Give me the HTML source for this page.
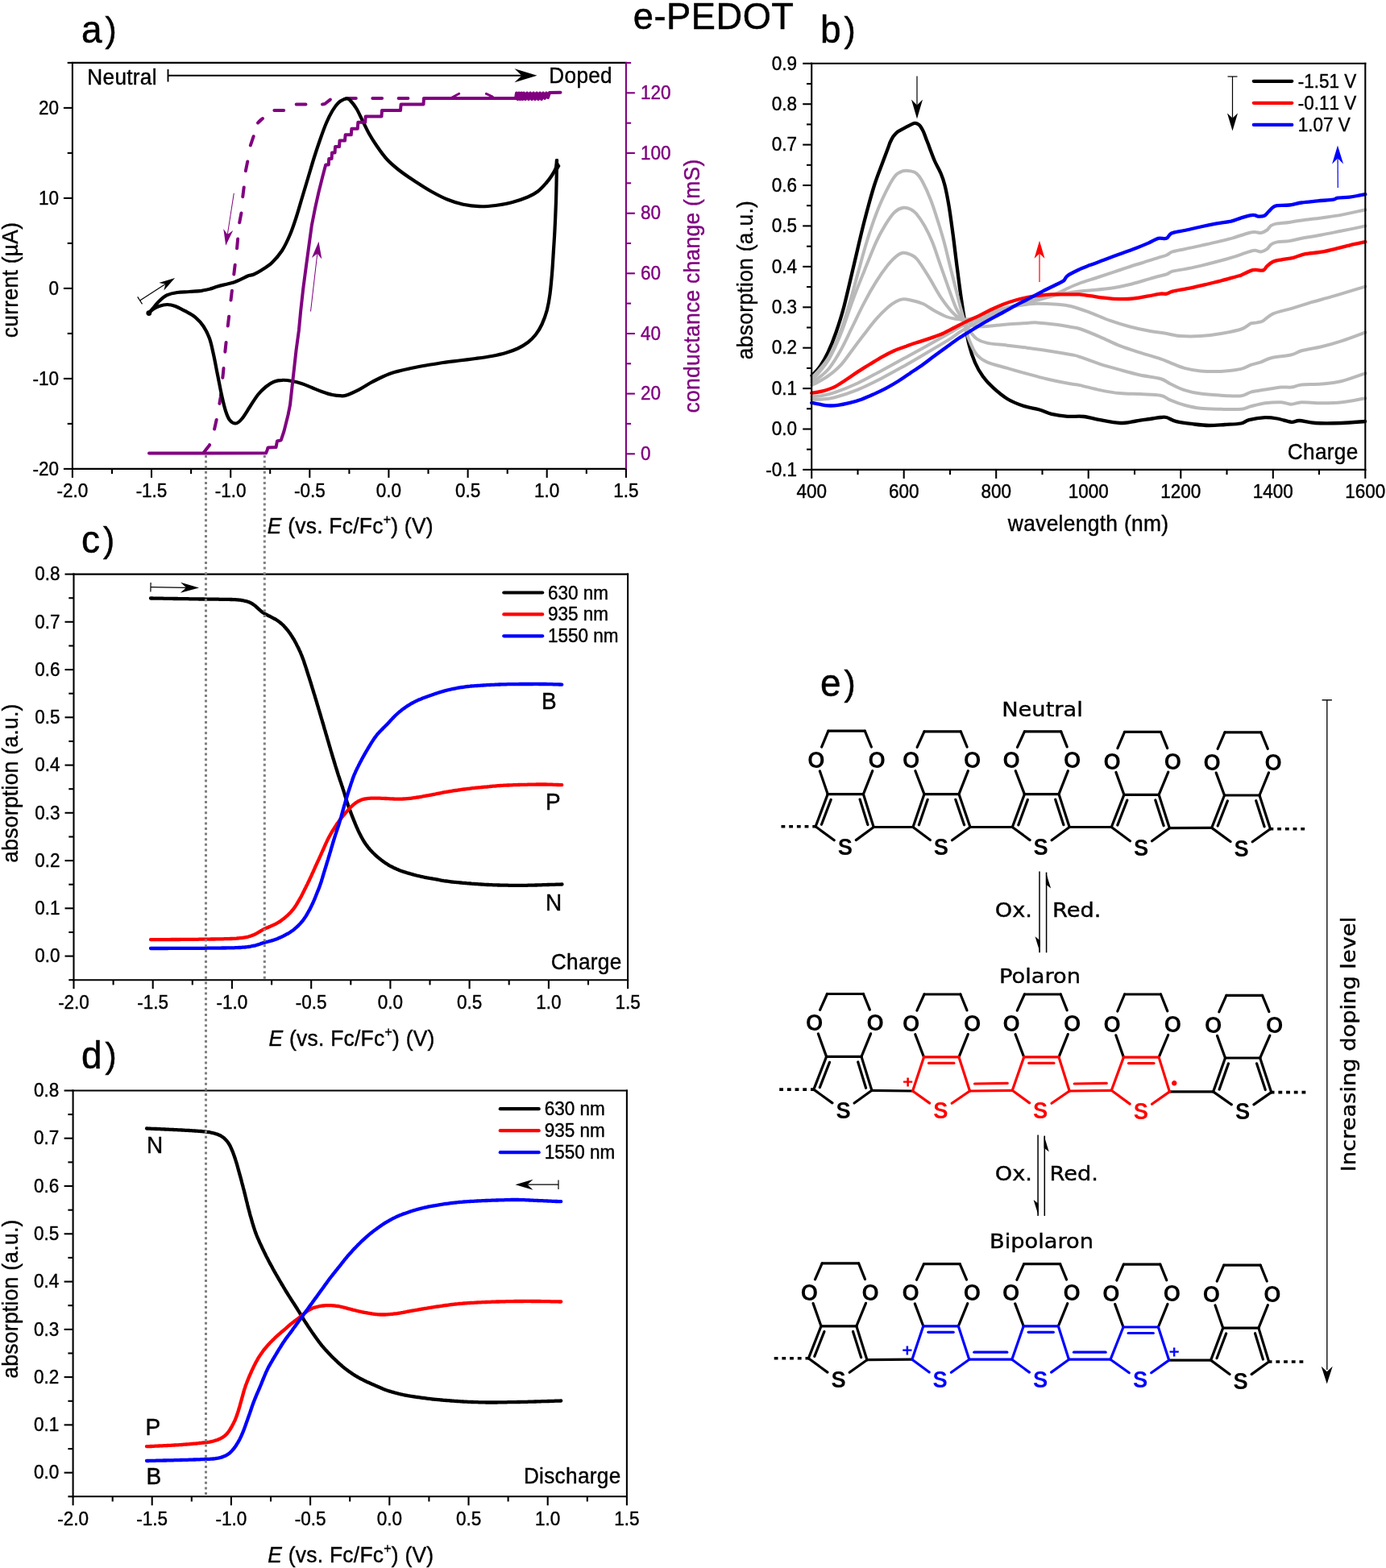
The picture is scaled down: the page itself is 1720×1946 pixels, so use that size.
<!DOCTYPE html>
<html lang="en">
<head>
<meta charset="utf-8">
<title>e-PEDOT</title>
<style>
html,body{margin:0;padding:0;background:#fff;}
body{width:1720px;height:1946px;overflow:hidden;}
svg{display:block;}
.ls{font-family:"Liberation Sans",Arial,Helvetica,sans-serif;font-kerning:none;}
.dv{font-family:"DejaVu Sans",Verdana,sans-serif;}
.lsb{font-family:"Liberation Sans",Arial,Helvetica,sans-serif;font-weight:bold;}
.dvb{font-family:"DejaVu Sans",Verdana,sans-serif;font-weight:bold;}
</style>
</head>
<body>
<svg width="1720" height="1946" viewBox="0 0 1720 1946">
<rect width="1720" height="1946" fill="#fff"/>
<text class="ls" transform="translate(785.8 35.5) scale(1 1.04)" font-size="45.2" stroke="#000" stroke-width="0.5" letter-spacing="0.55">e-PEDOT</text>
<text class="ls" transform="translate(101 53) scale(1 1.03)" font-size="46" stroke="#000" stroke-width="0.5">a<tspan font-size="42.5" dx="4" dy="-0.5">)</tspan></text>
<text class="ls" transform="translate(1018 53) scale(1 1.03)" font-size="46" stroke="#000" stroke-width="0.5">b<tspan font-size="42.5" dx="4" dy="-0.5">)</tspan></text>
<text class="ls" transform="translate(101 686) scale(1 1.03)" font-size="46" stroke="#000" stroke-width="0.5">c<tspan font-size="42.5" dx="4" dy="-0.5">)</tspan></text>
<text class="ls" transform="translate(101 1326) scale(1 1.03)" font-size="46" stroke="#000" stroke-width="0.5">d<tspan font-size="42.5" dx="4" dy="-0.5">)</tspan></text>
<text class="ls" transform="translate(1018 864) scale(1 1.03)" font-size="46" stroke="#000" stroke-width="0.5">e<tspan font-size="42.5" dx="4" dy="-0.5">)</tspan></text>
<g>
<line x1="89.9" y1="76.9" x2="89.9" y2="582.9" stroke="#000" stroke-width="2.1" /><line x1="88.9" y1="581.9" x2="777.9" y2="581.9" stroke="#000" stroke-width="2.1" /><line x1="88.9" y1="77.9" x2="777.9" y2="77.9" stroke="#000" stroke-width="2.1" /><line x1="776.9" y1="76.9" x2="776.9" y2="582.9" stroke="#800080" stroke-width="2.1" />
<line x1="89.9" y1="581.9" x2="89.9" y2="592.9" stroke="#000" stroke-width="2.1" /><line x1="188" y1="581.9" x2="188" y2="592.9" stroke="#000" stroke-width="2.1" /><line x1="286.2" y1="581.9" x2="286.2" y2="592.9" stroke="#000" stroke-width="2.1" /><line x1="384.3" y1="581.9" x2="384.3" y2="592.9" stroke="#000" stroke-width="2.1" /><line x1="482.4" y1="581.9" x2="482.4" y2="592.9" stroke="#000" stroke-width="2.1" /><line x1="580.6" y1="581.9" x2="580.6" y2="592.9" stroke="#000" stroke-width="2.1" /><line x1="678.7" y1="581.9" x2="678.7" y2="592.9" stroke="#000" stroke-width="2.1" /><line x1="776.9" y1="581.9" x2="776.9" y2="592.9" stroke="#000" stroke-width="2.1" /><line x1="139" y1="581.9" x2="139" y2="588.1" stroke="#000" stroke-width="2.1" /><line x1="237.1" y1="581.9" x2="237.1" y2="588.1" stroke="#000" stroke-width="2.1" /><line x1="335.2" y1="581.9" x2="335.2" y2="588.1" stroke="#000" stroke-width="2.1" /><line x1="433.4" y1="581.9" x2="433.4" y2="588.1" stroke="#000" stroke-width="2.1" /><line x1="531.5" y1="581.9" x2="531.5" y2="588.1" stroke="#000" stroke-width="2.1" /><line x1="629.7" y1="581.9" x2="629.7" y2="588.1" stroke="#000" stroke-width="2.1" /><line x1="727.8" y1="581.9" x2="727.8" y2="588.1" stroke="#000" stroke-width="2.1" /><text class="ls" transform="translate(89.9 616.8) scale(1.0 1.04)" font-size="22.5" text-anchor="middle" fill="#000"  stroke="#000" stroke-width="0.4">-2.0</text><text class="ls" transform="translate(188 616.8) scale(1.0 1.04)" font-size="22.5" text-anchor="middle" fill="#000"  stroke="#000" stroke-width="0.4">-1.5</text><text class="ls" transform="translate(286.2 616.8) scale(1.0 1.04)" font-size="22.5" text-anchor="middle" fill="#000"  stroke="#000" stroke-width="0.4">-1.0</text><text class="ls" transform="translate(384.3 616.8) scale(1.0 1.04)" font-size="22.5" text-anchor="middle" fill="#000"  stroke="#000" stroke-width="0.4">-0.5</text><text class="ls" transform="translate(482.4 616.8) scale(1.0 1.04)" font-size="22.5" text-anchor="middle" fill="#000"  stroke="#000" stroke-width="0.4">0.0</text><text class="ls" transform="translate(580.6 616.8) scale(1.0 1.04)" font-size="22.5" text-anchor="middle" fill="#000"  stroke="#000" stroke-width="0.4">0.5</text><text class="ls" transform="translate(678.7 616.8) scale(1.0 1.04)" font-size="22.5" text-anchor="middle" fill="#000"  stroke="#000" stroke-width="0.4">1.0</text><text class="ls" transform="translate(776.9 616.8) scale(1.0 1.04)" font-size="22.5" text-anchor="middle" fill="#000"  stroke="#000" stroke-width="0.4">1.5</text>
<line x1="78.9" y1="581.9" x2="89.9" y2="581.9" stroke="#000" stroke-width="2.1" /><line x1="78.9" y1="469.9" x2="89.9" y2="469.9" stroke="#000" stroke-width="2.1" /><line x1="78.9" y1="357.9" x2="89.9" y2="357.9" stroke="#000" stroke-width="2.1" /><line x1="78.9" y1="245.9" x2="89.9" y2="245.9" stroke="#000" stroke-width="2.1" /><line x1="78.9" y1="133.9" x2="89.9" y2="133.9" stroke="#000" stroke-width="2.1" /><line x1="83.7" y1="525.9" x2="89.9" y2="525.9" stroke="#000" stroke-width="2.1" /><line x1="83.7" y1="413.9" x2="89.9" y2="413.9" stroke="#000" stroke-width="2.1" /><line x1="83.7" y1="301.9" x2="89.9" y2="301.9" stroke="#000" stroke-width="2.1" /><line x1="83.7" y1="189.9" x2="89.9" y2="189.9" stroke="#000" stroke-width="2.1" /><line x1="83.7" y1="77.9" x2="89.9" y2="77.9" stroke="#000" stroke-width="2.1" /><text class="ls" transform="translate(73 589.6) scale(1.0 1.04)" font-size="22.5" text-anchor="end" fill="#000"  stroke="#000" stroke-width="0.4">-20</text><text class="ls" transform="translate(73 477.6) scale(1.0 1.04)" font-size="22.5" text-anchor="end" fill="#000"  stroke="#000" stroke-width="0.4">-10</text><text class="ls" transform="translate(73 365.6) scale(1.0 1.04)" font-size="22.5" text-anchor="end" fill="#000"  stroke="#000" stroke-width="0.4">0</text><text class="ls" transform="translate(73 253.6) scale(1.0 1.04)" font-size="22.5" text-anchor="end" fill="#000"  stroke="#000" stroke-width="0.4">10</text><text class="ls" transform="translate(73 141.6) scale(1.0 1.04)" font-size="22.5" text-anchor="end" fill="#000"  stroke="#000" stroke-width="0.4">20</text>
<line x1="776.9" y1="563.3" x2="787.9" y2="563.3" stroke="#800080" stroke-width="2.1" /><line x1="776.9" y1="488.6" x2="787.9" y2="488.6" stroke="#800080" stroke-width="2.1" /><line x1="776.9" y1="414" x2="787.9" y2="414" stroke="#800080" stroke-width="2.1" /><line x1="776.9" y1="339.3" x2="787.9" y2="339.3" stroke="#800080" stroke-width="2.1" /><line x1="776.9" y1="264.7" x2="787.9" y2="264.7" stroke="#800080" stroke-width="2.1" /><line x1="776.9" y1="190" x2="787.9" y2="190" stroke="#800080" stroke-width="2.1" /><line x1="776.9" y1="115.3" x2="787.9" y2="115.3" stroke="#800080" stroke-width="2.1" /><line x1="776.9" y1="525.9" x2="783.1" y2="525.9" stroke="#800080" stroke-width="2.1" /><line x1="776.9" y1="451.3" x2="783.1" y2="451.3" stroke="#800080" stroke-width="2.1" /><line x1="776.9" y1="376.6" x2="783.1" y2="376.6" stroke="#800080" stroke-width="2.1" /><line x1="776.9" y1="302" x2="783.1" y2="302" stroke="#800080" stroke-width="2.1" /><line x1="776.9" y1="227.3" x2="783.1" y2="227.3" stroke="#800080" stroke-width="2.1" /><line x1="776.9" y1="152.7" x2="783.1" y2="152.7" stroke="#800080" stroke-width="2.1" /><line x1="776.9" y1="78" x2="783.1" y2="78" stroke="#800080" stroke-width="2.1" /><text class="ls" transform="translate(795 571) scale(1.0 1.04)" font-size="22.5" text-anchor="start" fill="#800080"  stroke="#800080" stroke-width="0.4">0</text><text class="ls" transform="translate(795 496.3) scale(1.0 1.04)" font-size="22.5" text-anchor="start" fill="#800080"  stroke="#800080" stroke-width="0.4">20</text><text class="ls" transform="translate(795 421.7) scale(1.0 1.04)" font-size="22.5" text-anchor="start" fill="#800080"  stroke="#800080" stroke-width="0.4">40</text><text class="ls" transform="translate(795 347) scale(1.0 1.04)" font-size="22.5" text-anchor="start" fill="#800080"  stroke="#800080" stroke-width="0.4">60</text><text class="ls" transform="translate(795 272.4) scale(1.0 1.04)" font-size="22.5" text-anchor="start" fill="#800080"  stroke="#800080" stroke-width="0.4">80</text><text class="ls" transform="translate(795 197.7) scale(1.0 1.04)" font-size="22.5" text-anchor="start" fill="#800080"  stroke="#800080" stroke-width="0.4">100</text><text class="ls" transform="translate(795 123) scale(1.0 1.04)" font-size="22.5" text-anchor="start" fill="#800080"  stroke="#800080" stroke-width="0.4">120</text>
<text class="ls" transform="translate(331.7 662.3) scale(1 1.04)" font-size="26.4" stroke="#000" stroke-width="0.4" letter-spacing="0.27"><tspan font-style="italic">E</tspan> (vs. Fc/Fc<tspan font-size="15.8" dy="-11.4">+</tspan><tspan dy="11.4">) (V)</tspan></text>
<text class="ls" transform="translate(22 347.5) rotate(-90) scale(1.0 1.04)" font-size="26.4" text-anchor="middle" fill="#000"  stroke="#000" stroke-width="0.4" letter-spacing="0.3">current (µA)</text>
<text class="ls" transform="translate(868 355) rotate(-90) scale(1.0 1.04)" font-size="26.4" text-anchor="middle" fill="#800080"  stroke="#800080" stroke-width="0.4" letter-spacing="0.3">conductance change (mS)</text>
<text class="ls" transform="translate(108.3 104.7) scale(1.0 1.04)" font-size="26.2" text-anchor="start" fill="#000"  stroke="#000" stroke-width="0.4" letter-spacing="0.3">Neutral</text>
<text class="ls" transform="translate(681.3 102.7) scale(1.0 1.04)" font-size="26.2" text-anchor="start" fill="#000"  stroke="#000" stroke-width="0.4" letter-spacing="0.3">Doped</text>
<line x1="208.5" y1="93.8" x2="647.5" y2="93.8" stroke="#000" stroke-width="1.9" /><line x1="208.5" y1="101.5" x2="208.5" y2="86" stroke="#000" stroke-width="1.9" /><polygon points="666.5,93.8 638.5,102.3 647.5,93.8 638.5,85.3" fill="#000"/>
<path d="M525 122L413 122L410 123.5L403 129L400 129.4L362 129.5L359 136.9L340 137L336 138.5L330.4 144L325 147.5L320 152.5" fill="none" stroke="#800080" stroke-width="4.0" stroke-linecap="round" stroke-linejoin="round" stroke-dasharray="11.8 20.5" stroke-dashoffset="13.7"/>
<path d="M326 147L320 152.5L317.5 160L315.5 166.7L310 183L307.7 198L304.5 213.8L303 230.3L301 246L299.8 262.5L296.8 278.4L293.8 310.9L290 342.6L286.2 375.1L282.4 407.6L279.5 435L277 462.5L273.8 492.5L270 515L265 537.5L260 552.5L252.5 562" fill="none" stroke="#800080" stroke-width="4.0" stroke-linecap="round" stroke-linejoin="round" stroke-dasharray="11.8 20.5" stroke-dashoffset="6.6"/>
<path d="M560 121.5L569.7 116.3M603.4 116.3L611.3 120" fill="none" stroke="#800080" stroke-width="3" stroke-linecap="round" stroke-linejoin="round" />
<path d="M184.5 388.8C185.4 387.7 187.8 385 190 382.5C192.2 380 194.6 376.5 197.5 373.8C200.4 371 203.8 368 207.5 366.2C211.2 364.5 215.4 363.7 220 363C224.6 362.3 230 362.4 235 362C240 361.6 245.8 361.3 250 360.8C254.2 360.2 256.7 359.6 260 358.8C263.3 357.9 266.7 356.5 270 355.5C273.3 354.5 276.7 353.8 280 353C283.3 352.2 286.7 351.6 290 350.5C293.3 349.4 297.1 347.6 300 346.2C302.9 344.9 305 343.5 307.5 342.5C310 341.5 312.1 341.8 315 340.5C317.9 339.2 321.2 337.4 325 335C328.8 332.6 333.3 330 337.5 326C341.7 322 346.2 316.8 350 311C353.8 305.2 357.1 297.8 360 291C362.9 284.2 365 277.7 367.5 270C370 262.3 372.5 253.3 375 245C377.5 236.7 380 228.3 382.5 220C385 211.7 387.5 202.9 390 195C392.5 187.1 395 179.6 397.5 172.5C400 165.4 402.5 158.3 405 152.5C407.5 146.7 410 141.7 412.5 137.5C415 133.3 417.5 129.9 420 127.5C422.5 125.1 425.7 123.8 427.5 123C429.3 122.2 429.8 122.2 431 122.5C432.2 122.8 433.1 122.9 435 125C436.9 127.1 440 130.8 442.5 135C445 139.2 447.5 145 450 150C452.5 155 454.6 159.8 457.5 165C460.4 170.2 463.8 175.6 467.5 181C471.2 186.4 475.4 192.5 480 197.5C484.6 202.5 489.2 206.4 495 211C500.8 215.6 508.3 220.6 515 225C521.7 229.4 528.3 233.8 535 237.5C541.7 241.2 548.3 244.8 555 247.5C561.7 250.2 568.3 252.3 575 253.8C581.7 255.2 588.3 256 595 256.2C601.7 256.5 608.3 255.8 615 255C621.7 254.2 628.3 253 635 251.2C641.7 249.5 649.6 246.8 655 244.5C660.4 242.2 663.8 240.3 667.5 237.5C671.2 234.7 674.6 230.8 677.5 227.5C680.4 224.2 682.9 220.8 685 217.5C687.1 214.2 689 211.1 690 208C691 204.9 690.8 200.5 691 199" fill="none" stroke="#000" stroke-width="4.2" stroke-linecap="round" stroke-linejoin="round" />
<path d="M691 199C690.9 204.2 690.7 221.5 690.5 230C690.3 238.5 690.3 240.8 690 250C689.7 259.2 689 275 688.5 285C688 295 687.6 300.8 687 310C686.4 319.2 685.8 330.8 685 340C684.2 349.2 683.5 357.5 682.5 365C681.5 372.5 680.4 378.8 678.8 385C677.1 391.2 674.8 397.5 672.5 402.5C670.2 407.5 667.9 411.2 665 415C662.1 418.8 658.8 422.1 655 425C651.2 427.9 647.1 430.3 642.5 432.5C637.9 434.7 632.9 436.4 627.5 438C622.1 439.6 616.2 440.8 610 442C603.8 443.2 596.7 444.1 590 445C583.3 445.9 576.7 446.7 570 447.5C563.3 448.3 556.7 449 550 450C543.3 451 536.7 452.1 530 453.2C523.3 454.4 516.7 455.6 510 457C503.3 458.4 495.8 460 490 461.8C484.2 463.5 480 465.3 475 467.5C470 469.7 465 472.3 460 475C455 477.7 450 481.2 445 483.8C440 486.3 433.8 489.2 430 490.5C426.2 491.8 425.4 491.3 422.5 491.2C419.6 491.2 416.2 490.8 412.5 490C408.8 489.2 404.2 487.7 400 486.2C395.8 484.8 391.7 482.9 387.5 481.2C383.3 479.6 379.2 477.6 375 476.2C370.8 474.9 366.7 473.8 362.5 473C358.3 472.2 353.8 471.6 350 471.8C346.2 471.9 343.3 472.4 340 473.8C336.7 475.1 333.3 477.3 330 480C326.7 482.7 323.3 485.8 320 490C316.7 494.2 313.3 500 310 505C306.7 510 302.9 516.6 300 520C297.1 523.4 295 525.3 292.5 525.5C290 525.7 287.1 523.8 285 521.2C282.9 518.7 281.7 515.2 280 510C278.3 504.8 276.7 497.5 275 490C273.3 482.5 271.7 473.3 270 465C268.3 456.7 266.7 447.5 265 440C263.3 432.5 262.1 425.8 260 420C257.9 414.2 255.4 409.4 252.5 405C249.6 400.6 246.2 396.9 242.5 393.8C238.8 390.6 234.2 388.5 230 386.2C225.8 384 221.2 381.4 217.5 380C213.8 378.6 210.8 378 207.5 378C204.2 378 200.4 379 197.5 380C194.6 381 192.2 382.3 190 383.8C187.8 385.2 185.4 387.9 184.5 388.8" fill="none" stroke="#000" stroke-width="4.2" stroke-linecap="round" stroke-linejoin="round" />
<polygon points="690,197 695.5,206 691,214 688.5,206" fill="#000"/>
<circle cx="184.8" cy="388.6" r="3.4" fill="#000"/>
<path d="M185 562.5L330 562.3L331.5 559L332.5 555.5L342.5 555L344 547.5L348.8 546.2L352.5 535L357.5 515L360 502.5L362.5 480L365 457.5L367.5 435L370.9 409.9L373.2 385.7L376.2 358.5L380 329.8L383.7 302.6L386.8 279.9L391.3 257.2L395.6 238L400.3 219.3L403.8 206L404.2 204.4L407.8 204.4L408.2 197L411.6 197L412 189.5L415.6 189.5L416 182.1L421 182.1L421.5 174.6L428 174.6L428.6 167.3L435.8 167.3L436.4 159.7L443.8 159.7L444.3 151.8L453.2 151.8L453.7 144.4L473.5 144.4L474 137L497 137L497.6 129.4L525.5 129.4L526 122L640 122L641 115.5L642.5 123L644 115.5L645.5 123L647 115.5L648.5 123L650 115.5L652 123L654 115.5L656 123L658 115.5L660 123L662 115.5L664 123L666 115.5L668 123L670 115.5L672 123L674 115.5L676 122L678 115.5L680 121L682 115L695.5 114.7" fill="none" stroke="#800080" stroke-width="4.0" stroke-linecap="round" stroke-linejoin="round" />
<line x1="173.6" y1="372.9" x2="205.3" y2="352.5" stroke="#000" stroke-width="1.2" /><line x1="176.5" y1="377.4" x2="170.7" y2="368.4" stroke="#000" stroke-width="1.2" /><polygon points="217.1,344.9 203.4,360.6 205.3,352.5 197.2,350.9" fill="#000"/>
<line x1="290.3" y1="239.8" x2="282.3" y2="291" stroke="#800080" stroke-width="1.0" /><polygon points="280.2,304.8 277.3,284.1 282.3,291 289.2,286" fill="#800080"/>
<line x1="385.5" y1="386.5" x2="393.8" y2="314.7" stroke="#800080" stroke-width="1.0" /><polygon points="395.5,299.8 399.3,321.4 393.8,314.7 386.9,320" fill="#800080"/>
</g>
<g>
<path d="M1007.5 466.2C1009.2 464.4 1014.2 459.8 1017.5 455C1020.8 450.2 1024.2 444.6 1027.5 437.5C1030.8 430.4 1034.2 422.1 1037.5 412.5C1040.8 402.9 1043.8 394.2 1047.5 380C1051.2 365.8 1055.8 345 1060 327.5C1064.2 310 1068.3 291.2 1072.5 275C1076.7 258.8 1081.2 242.1 1085 230C1088.8 217.9 1092.1 210.4 1095 202.5C1097.9 194.6 1100.9 186.8 1102.5 182.5C1104.1 178.2 1103.7 178.7 1104.7 176.5C1105.7 174.3 1106.9 171.7 1108.4 169.5C1110 167.3 1111.5 165.3 1114 163.5C1116.5 161.7 1120.2 160.1 1123.3 158.4C1126.4 156.8 1130.6 154.5 1132.6 153.6C1134.6 152.7 1134.5 152.9 1135.5 152.9C1136.5 152.9 1137.4 153 1138.5 153.6C1139.6 154.2 1140.7 154.8 1141.9 156.3C1143.1 157.8 1144.4 160.2 1145.6 162.6C1146.8 165 1147.7 168.1 1148.8 170.9C1149.9 173.7 1151 176.4 1152.1 179.3C1153.2 182.2 1154 184.7 1155.3 188.1C1156.6 191.5 1158 195.5 1160 200C1162 204.5 1165.4 210 1167.5 215C1169.6 220 1170.8 223.3 1172.5 230C1174.2 236.7 1175.8 245 1177.5 255C1179.2 265 1180.8 277.5 1182.5 290C1184.2 302.5 1185.8 317 1187.5 330C1189.2 343 1190.8 356.3 1192.5 368C1194.2 379.7 1195.8 390.1 1197.5 400C1199.2 409.9 1200.4 419.2 1202.5 427.5C1204.6 435.8 1207.1 443.3 1210 450C1212.9 456.7 1216.2 462.3 1220 467.5C1223.8 472.7 1227.5 476.7 1232.5 481.2C1237.5 485.8 1243.8 491.2 1250 495C1256.2 498.8 1263.3 501.5 1270 503.8C1276.7 506 1284.2 506.8 1290 508.5C1295.8 510.2 1299.2 512.4 1305 513.8C1310.8 515.1 1318.3 516.2 1325 516.8C1331.7 517.3 1338.3 516.2 1345 517C1351.7 517.8 1357.5 519.9 1365 521.2C1372.5 522.6 1382.5 524.8 1390 525C1397.5 525.2 1403.3 523.4 1410 522.5C1416.7 521.6 1425 520.2 1430 519.5C1435 518.8 1437.1 518.2 1440 518C1442.9 517.8 1444.2 517.1 1447.5 518C1450.8 518.9 1454.6 521.9 1460 523.2C1465.4 524.6 1473.3 525.5 1480 526.2C1486.7 527 1493.3 527.9 1500 528C1506.7 528.1 1513.3 527.4 1520 527C1526.7 526.6 1535 526.5 1540 525.5C1545 524.5 1545 522.5 1550 521.2C1555 520 1564.2 518.5 1570 518.2C1575.8 518 1579.6 518.6 1585 519.5C1590.4 520.4 1597.9 523.3 1602.5 523.8C1607.1 524.2 1607.5 521.8 1612.5 522C1617.5 522.2 1623.8 524.5 1632.5 525C1641.2 525.5 1654.8 525.3 1665 525C1675.2 524.7 1689.2 523.3 1694 523" fill="none" stroke="#000" stroke-width="4.3" stroke-linecap="round" stroke-linejoin="round" />
<path d="M1007.2 468.6C1008.4 467.4 1011 465.7 1014.6 461.3C1018.3 457 1024.1 451.1 1029 442.4C1033.8 433.7 1039.5 420.6 1043.8 409C1048.2 397.4 1051.7 384.8 1055.3 372.7C1058.9 360.6 1062 348.5 1065.4 336.4C1068.8 324.3 1071.9 312 1075.6 300.1C1079.2 288.3 1083.5 275.5 1087.4 265.3C1091.2 255.2 1095 246.8 1098.8 239.1C1102.6 231.4 1106.7 223.4 1110.3 218.9C1113.8 214.5 1116.7 213.5 1120 212.4C1123.3 211.3 1127.3 211.9 1130.3 212.4C1133.3 212.9 1135.4 213.3 1137.7 215.4C1140.1 217.5 1141.8 219.6 1144.6 225C1147.5 230.4 1151.6 239 1154.9 247.7C1158.3 256.3 1161.9 268.2 1164.7 276.9C1167.4 285.7 1169.2 291.4 1171.5 300.1C1173.9 308.8 1176.3 319.4 1178.7 329.1C1181.2 338.8 1183.8 349.4 1186 358.1C1188.2 366.8 1190.3 375.3 1191.9 381.4C1193.4 387.4 1194.2 389.1 1195.5 394.4C1196.8 399.7 1198 407.7 1199.6 413C1201.1 418.4 1202.6 422.1 1204.7 426.6C1206.8 431.2 1208.8 436.5 1212.2 440.2C1215.5 444 1218.5 446.6 1224.8 449.3C1231.1 452.1 1241.7 454.4 1250 456.9C1258.3 459.3 1266.3 461.7 1274.6 463.9C1282.9 466.2 1290.6 468.4 1299.8 470.5C1308.9 472.6 1322.9 475.3 1329.6 476.5C1336.2 477.8 1334 476.8 1339.9 478.1C1345.8 479.3 1356.8 482.4 1365.1 484.1C1373.4 485.8 1381.4 487.3 1389.7 488.1C1398 489 1406.5 488.7 1414.9 489.1C1423.3 489.6 1433.8 489.4 1440.1 490.7C1446.4 491.9 1447.7 494.7 1452.7 496.7C1457.6 498.7 1463.6 501.1 1469.8 502.8C1476 504.4 1482.3 506 1489.9 506.8C1497.4 507.6 1506.7 507.6 1515.1 507.8C1523.5 508 1534.1 508.4 1540.3 507.8C1546.5 507.2 1547.3 505.5 1552.3 504.3C1557.3 503 1563.7 501.1 1570 500.2C1576.3 499.4 1584.6 499 1590.1 499.2C1595.5 499.5 1598.5 501.7 1602.7 501.7C1606.9 501.7 1609.1 499.5 1615.3 499.2C1621.5 499 1631.6 500.2 1639.9 500.2C1648.2 500.2 1656 500.2 1665.1 499.2C1674.2 498.2 1689.4 495 1694.3 494.2" fill="none" stroke="#b9b9b9" stroke-width="4.0" stroke-linecap="round" stroke-linejoin="round" />
<path d="M1007.2 471.5C1008.4 470.3 1011 468.6 1014.6 464.2C1018.3 459.9 1024.1 453.8 1029 445.3C1033.8 436.8 1039 425.4 1043.8 413.3C1048.7 401.2 1053.4 385.5 1058.2 372.7C1062.9 359.9 1067.6 348.5 1072.5 336.4C1077.3 324.3 1083 309.7 1087.4 300.1C1091.8 290.5 1095 285.1 1098.8 278.9C1102.6 272.8 1106.5 266.8 1110.3 263.3C1114 259.8 1117.8 258.4 1121.1 257.8C1124.5 257.2 1127.6 258.5 1130.3 259.8C1133 261 1134.3 261.9 1137.2 265.3C1140 268.8 1144.2 274.7 1147.5 280.4C1150.8 286.2 1153.7 292 1156.9 300.1C1160.2 308.2 1163.7 319.4 1167.1 329.1C1170.5 338.8 1174.2 349.4 1177.3 358.1C1180.5 366.8 1183.4 375.3 1186 381.4C1188.7 387.4 1191 390.4 1193.3 394.4C1195.6 398.4 1197.7 402.4 1199.6 405.5C1201.5 408.5 1202.6 410 1204.7 412.5C1206.8 415 1208.8 418.4 1212.2 420.6C1215.5 422.8 1218.5 424.3 1224.8 425.6C1231.1 427 1241.7 427.6 1250 428.7C1258.3 429.7 1266.3 430.6 1274.6 431.7C1282.9 432.8 1290.6 433.8 1299.8 435.2C1308.9 436.6 1322.9 439 1329.6 440.2C1336.2 441.5 1334 440.8 1339.9 442.8C1345.8 444.7 1356.8 449.2 1365.1 451.8C1373.4 454.5 1381.4 456.6 1389.7 458.9C1398 461.2 1406.5 463.6 1414.9 465.5C1423.3 467.3 1433.8 468.1 1440.1 470C1446.4 471.8 1447.7 474.2 1452.7 476.5C1457.6 478.9 1463.6 482.1 1469.8 484.1C1476 486.1 1482.3 487.6 1489.9 488.6C1497.4 489.7 1506.7 490.2 1515.1 490.7C1523.5 491.1 1534.1 491.8 1540.3 491.2C1546.5 490.5 1547.3 487.9 1552.3 486.6C1557.3 485.4 1563.7 484.6 1570 483.6C1576.3 482.6 1584.6 481.1 1590.1 480.6C1595.5 480.1 1598.5 481.1 1602.7 480.6C1606.9 480.1 1609.1 478.2 1615.3 477.6C1621.5 476.9 1631.6 477.3 1639.9 476.5C1648.2 475.8 1656 475.2 1665.1 473C1674.2 470.8 1689.4 465 1694.3 463.4" fill="none" stroke="#b9b9b9" stroke-width="4.0" stroke-linecap="round" stroke-linejoin="round" />
<path d="M1007.2 474.4C1008.4 473.7 1011 472.9 1014.6 470C1018.3 467.1 1024.1 462.9 1029 456.9C1033.8 450.8 1039 442.4 1043.8 433.7C1048.7 425 1053.4 414.3 1058.2 404.7C1062.9 395 1067.6 384.8 1072.5 375.6C1077.3 366.4 1082.5 357.2 1087.4 349.4C1092.2 341.7 1097.6 334.2 1101.7 329C1105.8 323.9 1108.8 320.8 1112 318.3C1115.1 315.7 1117.7 314.2 1120.6 313.8C1123.4 313.4 1126.2 314.4 1129.2 315.7C1132.1 317.1 1134.2 317.1 1138.1 321.8C1142 326.4 1147.8 335.9 1152.6 343.6C1157.5 351.4 1162.3 361 1167.1 368.3C1172 375.6 1177.5 382.7 1181.7 387.3C1185.8 391.9 1189.2 393.9 1191.9 395.9C1194.6 397.9 1195.7 398.3 1197.9 399.4C1200 400.5 1202.4 401.5 1204.7 402.4C1207.1 403.4 1208.8 404.5 1212.2 405C1215.5 405.4 1218.5 405.4 1224.8 405C1231.1 404.5 1241.7 403.1 1250 402.4C1258.3 401.8 1268.4 401.3 1274.6 400.9C1280.8 400.6 1280.9 400.1 1287.2 400.4C1293.5 400.8 1305.3 402 1312.4 402.9C1319.4 403.9 1325 405.1 1329.6 406C1334.1 406.8 1334 406 1339.9 408C1345.8 410 1356.8 414.5 1365.1 418.1C1373.4 421.6 1381.4 425.9 1389.7 429.2C1398 432.4 1406.5 435 1414.9 437.7C1423.3 440.4 1433.8 443.2 1440.1 445.3C1446.4 447.4 1447.7 448.4 1452.7 450.3C1457.6 452.3 1463.6 455.2 1469.8 456.9C1476 458.6 1482.3 459.7 1489.9 460.4C1497.4 461.1 1506.7 461.3 1515.1 460.9C1523.5 460.5 1534.1 459.2 1540.3 457.9C1546.5 456.5 1548.2 454.3 1552.3 452.9C1556.4 451.4 1560.7 450.8 1564.9 449.3C1569.1 447.9 1571.2 445.8 1577.5 444.3C1583.8 442.8 1596.4 441.8 1602.7 440.2C1609 438.7 1609.1 436.9 1615.3 435.2C1621.5 433.5 1631.6 432.2 1639.9 430.2C1648.2 428.2 1656 426.1 1665.1 423.1C1674.2 420.2 1689.4 414.3 1694.3 412.5" fill="none" stroke="#b9b9b9" stroke-width="4.0" stroke-linecap="round" stroke-linejoin="round" />
<path d="M1007.2 478.1C1008.4 477.5 1011 476.6 1014.6 474.5C1018.3 472.5 1024.1 469.4 1029 465.7C1033.8 462.1 1039 457.9 1043.8 452.6C1048.7 447.3 1053.4 440 1058.2 433.7C1062.9 427.4 1067.6 421.1 1072.5 414.8C1077.3 408.5 1082.5 401.5 1087.4 395.9C1092.2 390.3 1097.6 385 1101.7 381.4C1105.8 377.8 1108.8 375.9 1112 374.2C1115.1 372.5 1117.4 371.4 1120.6 371.2C1123.7 370.9 1126.7 371.7 1130.8 372.7C1135 373.7 1140.5 374.9 1145.4 377C1150.2 379.2 1155 383.1 1159.8 385.8C1164.7 388.5 1170 391.3 1174.4 393C1178.8 394.7 1182.6 395.3 1186 395.9C1189.4 396.5 1191.2 396.8 1194.8 396.6C1198.4 396.5 1202.6 396.1 1207.6 394.9C1212.6 393.7 1217.7 391.5 1224.8 389.3C1231.8 387.2 1241.7 383.7 1250 381.8C1258.3 379.8 1268.4 378.6 1274.6 377.7C1280.8 376.9 1280.9 376.7 1287.2 376.7C1293.5 376.7 1305.3 377.2 1312.4 377.7C1319.4 378.3 1322.9 378.6 1329.6 380.3C1336.2 381.9 1344.4 384.9 1352.5 387.8C1360.5 390.8 1369.4 395 1377.7 397.9C1386 400.8 1394 403.3 1402.3 405.5C1410.6 407.7 1420.3 409.7 1427.5 411C1434.6 412.4 1438.9 412.5 1445.2 413.5C1451.5 414.5 1457.8 416.5 1465.3 417.1C1472.7 417.6 1481.6 417.6 1489.9 417.1C1498.2 416.6 1506.7 415.5 1515.1 414C1523.5 412.6 1534.1 410.6 1540.3 408.5C1546.5 406.4 1549.1 402.8 1552.3 401.4C1555.5 400.1 1557.2 401 1559.7 400.4C1562.3 399.8 1564.4 399.8 1567.8 397.9C1571.1 396.1 1574 391.9 1579.8 389.3C1585.6 386.8 1594.8 385.1 1602.7 382.8C1610.6 380.4 1619 377.7 1627.3 375.2C1635.6 372.8 1644.1 370.6 1652.5 368.2C1660.9 365.7 1670.7 362.7 1677.7 360.6C1684.7 358.5 1691.5 356.4 1694.3 355.6" fill="none" stroke="#b9b9b9" stroke-width="4.0" stroke-linecap="round" stroke-linejoin="round" />
<path d="M1007.2 492.2C1009.1 492 1013.9 492 1018.7 491.2C1023.4 490.3 1028.2 489.7 1035.8 487.1C1043.5 484.5 1054.9 480 1064.5 475.5C1074 471.1 1083.5 465.5 1093.1 460.4C1102.6 455.3 1112.2 450 1121.7 444.8C1131.3 439.6 1140.8 434.5 1150.3 429.2C1159.9 423.9 1171.3 417.3 1179 413C1186.6 408.7 1186.6 407.9 1196.2 403.5C1205.7 399 1224.8 390.6 1236.2 386.3C1247.7 382 1255.9 380.2 1264.9 377.7C1273.8 375.3 1281.8 373.8 1290.1 371.7C1298.4 369.6 1306.4 367.1 1314.7 365.4C1323 363.7 1332.3 362.5 1339.9 361.6C1347.4 360.7 1353.2 360.5 1359.9 359.8C1366.6 359.2 1373.3 358.6 1379.9 357.6C1386.6 356.5 1393.3 355.1 1400 353.5C1406.7 351.9 1413.8 349.8 1420 348C1426.2 346.2 1432.6 344.2 1437.2 343C1441.8 341.7 1444.6 341.5 1447.5 340.4C1450.5 339.4 1451.2 337.7 1455 336.6C1458.7 335.6 1464 335.3 1469.8 334.1C1475.7 333 1483.2 331.4 1489.9 329.9C1496.6 328.3 1503.2 326.6 1509.9 324.8C1516.6 323 1523.3 321.2 1530 319.1C1536.6 317 1545.4 313.8 1550 312.4C1554.6 311 1555 310.7 1557.4 310.7C1559.9 310.7 1562.4 312.6 1564.9 312.4C1567.4 312.1 1570.2 310.7 1572.3 309.2C1574.4 307.7 1575.4 304.8 1577.5 303.3C1579.6 301.9 1581.2 301.1 1584.9 300.4C1588.7 299.7 1594.8 299.9 1599.8 299.1C1604.9 298.3 1608.6 297.1 1615.3 295.8C1622 294.6 1631.6 293.1 1639.9 291.5C1648.2 290 1656 288.3 1665.1 286.5C1674.2 284.7 1689.4 281.5 1694.3 280.4" fill="none" stroke="#b9b9b9" stroke-width="4.0" stroke-linecap="round" stroke-linejoin="round" />
<path d="M1007.2 495.7C1009.1 495.7 1013.9 496.1 1018.7 495.7C1023.4 495.3 1028.2 495.2 1035.8 493.2C1043.5 491.2 1054.9 487.5 1064.5 483.6C1074 479.7 1083.5 474.9 1093.1 470C1102.6 465.1 1112.2 459.7 1121.7 454.4C1131.3 449 1140.8 443.4 1150.3 437.7C1159.9 432.1 1171.3 425.4 1179 420.6C1186.6 415.8 1186.6 414.3 1196.2 409C1205.7 403.7 1224.8 394 1236.2 388.8C1247.7 383.6 1255.9 380.8 1264.9 377.7C1273.8 374.7 1281.8 372.9 1290.1 370.4C1298.4 368 1308.9 365 1314.7 362.9C1320.5 360.8 1320.8 359.7 1325 357.8C1329.2 355.9 1334 353.7 1339.9 351.5C1345.7 349.4 1353.2 347.2 1359.9 345C1366.6 342.8 1373.3 340.6 1379.9 338.4C1386.6 336.2 1393.3 333.8 1400 331.6C1406.7 329.4 1413.8 327.3 1420 325.3C1426.2 323.3 1432.6 321.2 1437.2 319.8C1441.8 318.3 1444.6 318 1447.5 316.7C1450.5 315.5 1451.2 313.6 1455 312.4C1458.7 311.1 1464 310.4 1469.8 309.2C1475.7 307.9 1483.2 306.4 1489.9 304.9C1496.6 303.4 1503.2 302 1509.9 300.4C1516.6 298.8 1523.3 297.2 1530 295.3C1536.6 293.4 1545.4 290.2 1550 289C1554.6 287.8 1555 288 1557.4 288C1559.9 288 1562.4 289.4 1564.9 289C1567.4 288.6 1570.2 287 1572.3 285.5C1574.4 284 1575.4 281.3 1577.5 279.9C1579.6 278.6 1581.2 278.1 1584.9 277.4C1588.7 276.8 1594.8 276.6 1599.8 275.9C1604.9 275.2 1608.6 274.3 1615.3 273.4C1622 272.5 1631.6 271.5 1639.9 270.4C1648.2 269.2 1656 268.3 1665.1 266.6C1674.2 264.9 1689.4 261.3 1694.3 260.3" fill="none" stroke="#b9b9b9" stroke-width="4.0" stroke-linecap="round" stroke-linejoin="round" />
<path d="M1007.2 487.9C1009.3 487.5 1015.2 486.8 1019.8 485.6C1024.4 484.4 1029.7 482.9 1034.7 480.6C1039.6 478.2 1044.6 474.7 1049.6 471.5C1054.5 468.3 1059.4 464.7 1064.5 461.4C1069.5 458.1 1074.9 455 1079.9 451.8C1085 448.7 1089.8 445.5 1094.8 442.8C1099.8 440 1104.7 437.4 1109.7 435.2C1114.7 433 1119.6 431.4 1124.6 429.7C1129.5 427.9 1134.4 426.3 1139.5 424.6C1144.5 422.9 1149.9 421.3 1154.9 419.6C1160 417.8 1164.9 416.2 1169.8 414C1174.8 411.9 1179.7 409 1184.7 406.5C1189.7 404 1194.5 401.3 1199.6 398.9C1204.6 396.5 1210 394.3 1215 391.9C1220.1 389.4 1225 386.6 1229.9 384.3C1234.9 381.9 1239.9 379.7 1244.8 377.7C1249.8 375.8 1254.7 374.1 1259.7 372.7C1264.7 371.3 1269.5 370.2 1274.6 369.2C1279.7 368.2 1285 367.3 1290.1 366.7C1295.1 366 1298.4 365.6 1304.9 365.4C1311.5 365.2 1323.7 365.4 1329.6 365.4C1335.4 365.4 1335.7 365.1 1339.9 365.4C1344.1 365.7 1349.3 366.7 1354.8 367.4C1360.2 368.2 1366.7 369.3 1372.5 369.9C1378.3 370.6 1383.9 371.1 1389.7 371.2C1395.5 371.3 1401.5 371.1 1407.4 370.4C1413.4 369.8 1419.7 368.4 1425.2 367.4C1430.6 366.4 1436.3 365.1 1440.1 364.6C1443.8 364.2 1445 365.1 1447.5 364.6C1450 364.1 1450.4 362.7 1455 361.6C1459.5 360.5 1468.3 359.2 1475 357.8C1481.7 356.4 1488.4 354.8 1495 353.3C1501.7 351.7 1508.4 350.2 1515.1 348.5C1521.8 346.8 1530.9 344.1 1535.1 343C1539.3 341.8 1537.4 342.6 1540.3 341.4C1543.1 340.3 1549.2 337 1552.3 335.9C1555.3 334.8 1556 335 1558.6 334.9C1561.2 334.8 1565.5 336.2 1567.8 335.4C1570 334.6 1570.3 332.1 1572.3 330.4C1574.3 328.6 1576.8 326.2 1579.8 324.8C1582.7 323.5 1585.9 323.1 1590.1 322.3C1594.3 321.5 1600 320.9 1605 319.8C1609.9 318.6 1614 316.4 1619.9 315.2C1625.7 314.1 1633.2 313.9 1639.9 312.7C1646.6 311.5 1653.3 309.8 1659.9 308.2C1666.6 306.6 1674.3 304.5 1680 303.1C1685.7 301.8 1691.9 300.6 1694.3 300.1" fill="none" stroke="#ff0000" stroke-width="4.3" stroke-linecap="round" stroke-linejoin="round" />
<path d="M1007.2 499.9C1008.8 500.2 1013.6 501.2 1016.9 501.7C1020.3 502.3 1023.4 503.2 1027.2 503.4C1031.1 503.6 1035.3 503.5 1039.8 502.9C1044.4 502.3 1049.8 501.1 1054.7 499.9C1059.7 498.6 1064.6 497.2 1069.6 495.4C1074.6 493.6 1079.4 491.4 1084.5 489.1C1089.6 486.8 1094.9 484.3 1100 481.6C1105 478.9 1109.9 476.1 1114.8 473C1119.8 469.9 1124.8 466.3 1129.7 462.9C1134.7 459.6 1139.7 456.4 1144.6 452.9C1149.6 449.3 1154.4 445.5 1159.5 441.8C1164.6 438 1169.9 434.1 1175 430.4C1180 426.8 1184.9 423.2 1189.9 419.8C1194.8 416.5 1199.8 413.6 1204.7 410.5C1209.7 407.4 1214.6 404.4 1219.6 401.4C1224.7 398.5 1230 395.6 1235.1 392.9C1240.1 390.1 1245 387.5 1250 384.8C1254.9 382.1 1259.9 379.3 1264.9 376.7C1269.8 374.1 1274.8 371.8 1279.7 369.2C1284.7 366.6 1289.6 363.7 1294.6 361.1C1299.7 358.5 1305.9 355.6 1310.1 353.5C1314.3 351.4 1317.3 350.4 1319.8 348.5C1322.3 346.6 1321.6 344.3 1325 342C1328.3 339.6 1335.3 336.3 1339.9 334.1C1344.4 332 1347.5 331 1352.5 329.1C1357.4 327.2 1363.4 325.1 1369.6 322.8C1375.8 320.5 1383 317.7 1389.7 315.2C1396.4 312.8 1403.8 310.2 1409.7 307.9C1415.6 305.7 1420.6 303.6 1425.2 301.6C1429.8 299.6 1433.5 296.8 1437.2 295.8C1440.9 294.9 1444.7 296.9 1447.5 295.8C1450.3 294.8 1450.1 291.2 1453.8 289.5C1457.5 287.9 1463.8 287.3 1469.8 286C1475.9 284.7 1483.2 282.9 1489.9 281.5C1496.6 280 1503.6 278.6 1509.9 277.4C1516.2 276.3 1522.6 275.8 1527.7 274.7C1532.7 273.5 1536.4 271.6 1540.3 270.4C1544.2 269.1 1548.3 267.9 1551.2 267.3C1554 266.8 1555.7 266.9 1557.4 267.1C1559.2 267.3 1559.5 268.5 1561.5 268.6C1563.4 268.7 1566.8 268.8 1568.9 267.8C1571 266.9 1572.2 264.6 1574.1 262.8C1575.9 261 1578 258.5 1579.8 257.3C1581.6 256 1581.6 255.7 1584.9 255.2C1588.3 254.8 1594.8 255.1 1599.8 254.5C1604.9 253.9 1609.4 252.3 1615.3 251.5C1621.2 250.6 1628.7 250.1 1635.3 249.4C1641.9 248.8 1650.7 248.3 1654.8 247.7C1658.9 247.1 1656.6 246.2 1659.9 245.7C1663.3 245.2 1670.2 245.2 1674.8 244.7C1679.4 244.1 1684.2 243 1687.4 242.4C1690.7 241.8 1693.2 241.3 1694.3 241.1" fill="none" stroke="#0000ff" stroke-width="4.3" stroke-linecap="round" stroke-linejoin="round" />
<line x1="1007.2" y1="77.8" x2="1007.2" y2="584" stroke="#000" stroke-width="2.1" /><line x1="1006.2" y1="582.9" x2="1695.3" y2="582.9" stroke="#000" stroke-width="2.1" /><line x1="1006.2" y1="78.8" x2="1695.3" y2="78.8" stroke="#000" stroke-width="2.1" /><line x1="1694.3" y1="77.8" x2="1694.3" y2="584" stroke="#000" stroke-width="2.1" />
<line x1="1007.2" y1="582.9" x2="1007.2" y2="593.9" stroke="#000" stroke-width="2.1" /><line x1="1121.7" y1="582.9" x2="1121.7" y2="593.9" stroke="#000" stroke-width="2.1" /><line x1="1236.2" y1="582.9" x2="1236.2" y2="593.9" stroke="#000" stroke-width="2.1" /><line x1="1350.7" y1="582.9" x2="1350.7" y2="593.9" stroke="#000" stroke-width="2.1" /><line x1="1465.3" y1="582.9" x2="1465.3" y2="593.9" stroke="#000" stroke-width="2.1" /><line x1="1579.8" y1="582.9" x2="1579.8" y2="593.9" stroke="#000" stroke-width="2.1" /><line x1="1694.3" y1="582.9" x2="1694.3" y2="593.9" stroke="#000" stroke-width="2.1" /><line x1="1064.5" y1="582.9" x2="1064.5" y2="589.1" stroke="#000" stroke-width="2.1" /><line x1="1179" y1="582.9" x2="1179" y2="589.1" stroke="#000" stroke-width="2.1" /><line x1="1293.5" y1="582.9" x2="1293.5" y2="589.1" stroke="#000" stroke-width="2.1" /><line x1="1408" y1="582.9" x2="1408" y2="589.1" stroke="#000" stroke-width="2.1" /><line x1="1522.5" y1="582.9" x2="1522.5" y2="589.1" stroke="#000" stroke-width="2.1" /><line x1="1637" y1="582.9" x2="1637" y2="589.1" stroke="#000" stroke-width="2.1" /><text class="ls" transform="translate(1007.2 617.6) scale(1.0 1.04)" font-size="22.5" text-anchor="middle" fill="#000"  stroke="#000" stroke-width="0.4">400</text><text class="ls" transform="translate(1121.7 617.6) scale(1.0 1.04)" font-size="22.5" text-anchor="middle" fill="#000"  stroke="#000" stroke-width="0.4">600</text><text class="ls" transform="translate(1236.2 617.6) scale(1.0 1.04)" font-size="22.5" text-anchor="middle" fill="#000"  stroke="#000" stroke-width="0.4">800</text><text class="ls" transform="translate(1350.7 617.6) scale(1.0 1.04)" font-size="22.5" text-anchor="middle" fill="#000"  stroke="#000" stroke-width="0.4">1000</text><text class="ls" transform="translate(1465.3 617.6) scale(1.0 1.04)" font-size="22.5" text-anchor="middle" fill="#000"  stroke="#000" stroke-width="0.4">1200</text><text class="ls" transform="translate(1579.8 617.6) scale(1.0 1.04)" font-size="22.5" text-anchor="middle" fill="#000"  stroke="#000" stroke-width="0.4">1400</text><text class="ls" transform="translate(1694.3 617.6) scale(1.0 1.04)" font-size="22.5" text-anchor="middle" fill="#000"  stroke="#000" stroke-width="0.4">1600</text>
<line x1="996.2" y1="582.9" x2="1007.2" y2="582.9" stroke="#000" stroke-width="2.1" /><line x1="996.2" y1="532.5" x2="1007.2" y2="532.5" stroke="#000" stroke-width="2.1" /><line x1="996.2" y1="482.1" x2="1007.2" y2="482.1" stroke="#000" stroke-width="2.1" /><line x1="996.2" y1="431.7" x2="1007.2" y2="431.7" stroke="#000" stroke-width="2.1" /><line x1="996.2" y1="381.3" x2="1007.2" y2="381.3" stroke="#000" stroke-width="2.1" /><line x1="996.2" y1="330.9" x2="1007.2" y2="330.9" stroke="#000" stroke-width="2.1" /><line x1="996.2" y1="280.4" x2="1007.2" y2="280.4" stroke="#000" stroke-width="2.1" /><line x1="996.2" y1="230" x2="1007.2" y2="230" stroke="#000" stroke-width="2.1" /><line x1="996.2" y1="179.6" x2="1007.2" y2="179.6" stroke="#000" stroke-width="2.1" /><line x1="996.2" y1="129.2" x2="1007.2" y2="129.2" stroke="#000" stroke-width="2.1" /><line x1="996.2" y1="78.8" x2="1007.2" y2="78.8" stroke="#000" stroke-width="2.1" /><line x1="1001" y1="557.7" x2="1007.2" y2="557.7" stroke="#000" stroke-width="2.1" /><line x1="1001" y1="507.3" x2="1007.2" y2="507.3" stroke="#000" stroke-width="2.1" /><line x1="1001" y1="456.9" x2="1007.2" y2="456.9" stroke="#000" stroke-width="2.1" /><line x1="1001" y1="406.5" x2="1007.2" y2="406.5" stroke="#000" stroke-width="2.1" /><line x1="1001" y1="356.1" x2="1007.2" y2="356.1" stroke="#000" stroke-width="2.1" /><line x1="1001" y1="305.7" x2="1007.2" y2="305.7" stroke="#000" stroke-width="2.1" /><line x1="1001" y1="255.2" x2="1007.2" y2="255.2" stroke="#000" stroke-width="2.1" /><line x1="1001" y1="204.8" x2="1007.2" y2="204.8" stroke="#000" stroke-width="2.1" /><line x1="1001" y1="154.4" x2="1007.2" y2="154.4" stroke="#000" stroke-width="2.1" /><line x1="1001" y1="104" x2="1007.2" y2="104" stroke="#000" stroke-width="2.1" /><text class="ls" transform="translate(989 590.6) scale(1.0 1.04)" font-size="22.5" text-anchor="end" fill="#000"  stroke="#000" stroke-width="0.4">-0.1</text><text class="ls" transform="translate(989 540.2) scale(1.0 1.04)" font-size="22.5" text-anchor="end" fill="#000"  stroke="#000" stroke-width="0.4">0.0</text><text class="ls" transform="translate(989 489.8) scale(1.0 1.04)" font-size="22.5" text-anchor="end" fill="#000"  stroke="#000" stroke-width="0.4">0.1</text><text class="ls" transform="translate(989 439.4) scale(1.0 1.04)" font-size="22.5" text-anchor="end" fill="#000"  stroke="#000" stroke-width="0.4">0.2</text><text class="ls" transform="translate(989 389) scale(1.0 1.04)" font-size="22.5" text-anchor="end" fill="#000"  stroke="#000" stroke-width="0.4">0.3</text><text class="ls" transform="translate(989 338.6) scale(1.0 1.04)" font-size="22.5" text-anchor="end" fill="#000"  stroke="#000" stroke-width="0.4">0.4</text><text class="ls" transform="translate(989 288.1) scale(1.0 1.04)" font-size="22.5" text-anchor="end" fill="#000"  stroke="#000" stroke-width="0.4">0.5</text><text class="ls" transform="translate(989 237.7) scale(1.0 1.04)" font-size="22.5" text-anchor="end" fill="#000"  stroke="#000" stroke-width="0.4">0.6</text><text class="ls" transform="translate(989 187.3) scale(1.0 1.04)" font-size="22.5" text-anchor="end" fill="#000"  stroke="#000" stroke-width="0.4">0.7</text><text class="ls" transform="translate(989 136.9) scale(1.0 1.04)" font-size="22.5" text-anchor="end" fill="#000"  stroke="#000" stroke-width="0.4">0.8</text><text class="ls" transform="translate(989 86.5) scale(1.0 1.04)" font-size="22.5" text-anchor="end" fill="#000"  stroke="#000" stroke-width="0.4">0.9</text>
<text class="ls" transform="translate(1350.6 658.7) scale(1.0 1.04)" font-size="26.4" text-anchor="middle" fill="#000"  stroke="#000" stroke-width="0.4" letter-spacing="0.3">wavelength (nm)</text>
<text class="ls" transform="translate(934 347.5) rotate(-90) scale(1.0 1.04)" font-size="26.4" text-anchor="middle" fill="#000"  stroke="#000" stroke-width="0.4" letter-spacing="0.3">absorption (a.u.)</text>
<text class="ls" transform="translate(1685.5 569.5) scale(1.0 1.04)" font-size="26.2" text-anchor="end" fill="#000"  stroke="#000" stroke-width="0.4" letter-spacing="0.3">Charge</text>
<line x1="1555.8" y1="100.8" x2="1603.3" y2="100.8" stroke="#000" stroke-width="4.2" stroke-linecap="round"/>
<text class="ls" transform="translate(1610.7 108.8) scale(1.0 1.04)" font-size="22.5" text-anchor="start" fill="#000"  stroke="#000" stroke-width="0.4">-1.51 V</text>
<line x1="1555.8" y1="127.8" x2="1603.3" y2="127.8" stroke="#ff0000" stroke-width="4.2" stroke-linecap="round"/>
<text class="ls" transform="translate(1610.7 135.8) scale(1.0 1.04)" font-size="22.5" text-anchor="start" fill="#000"  stroke="#000" stroke-width="0.4">-0.11 V</text>
<line x1="1555.8" y1="154.9" x2="1603.3" y2="154.9" stroke="#0000ff" stroke-width="4.2" stroke-linecap="round"/>
<text class="ls" transform="translate(1610.7 162.9) scale(1.0 1.04)" font-size="22.5" text-anchor="start" fill="#000"  stroke="#000" stroke-width="0.4">1.07 V</text>
<line x1="1138" y1="94.5" x2="1138" y2="130.5" stroke="#000" stroke-width="1.2" /><polygon points="1138,147.5 1131,123.5 1138,130.5 1145,123.5" fill="#000"/>
<line x1="1290" y1="350" x2="1290" y2="314.7" stroke="#ff0000" stroke-width="1.2" /><polygon points="1290,298.7 1296.5,320.7 1290,314.7 1283.5,320.7" fill="#ff0000"/>
<line x1="1660.3" y1="233" x2="1660.1" y2="196.5" stroke="#0000ff" stroke-width="1.2" /><polygon points="1660,180.5 1667.1,203.5 1660.1,196.5 1653.1,203.5" fill="#0000ff"/>
<line x1="1529.5" y1="95" x2="1529.5" y2="146.5" stroke="#000" stroke-width="1.2" /><line x1="1523.5" y1="95" x2="1535.5" y2="95" stroke="#000" stroke-width="1.2" /><polygon points="1529.5,162.5 1523,140.5 1529.5,146.5 1536,140.5" fill="#000"/>
</g>
<g>
<path d="M187 742.5L189.1 742.5L190.2 742.6L191.6 742.6L193 742.6L194.5 742.6L196 742.6L197.5 742.7L199 742.7L200.5 742.7L202 742.7L203.5 742.8L205 742.8L206.5 742.8L208 742.8L209.5 742.9L211 742.9L212.5 742.9L214 742.9L215.5 743L217 743L218.5 743L220 743L221.5 743.1L223 743.1L224.5 743.1L226 743.1L227.5 743.2L229 743.2L230.5 743.2L232 743.2L233.5 743.2L235 743.3L236.5 743.3L238 743.3L239.5 743.3L241 743.4L242.5 743.4L244 743.4L245.5 743.4L247 743.5L248.5 743.5L250 743.5L251.5 743.5L253 743.5L254.5 743.6L256 743.6L257.5 743.6L259 743.6L260.5 743.6L262 743.7L263.5 743.7L265 743.7L266.5 743.7L268 743.7L269.5 743.7L271 743.7L272.5 743.8L274 743.8L275.5 743.8L277 743.8L278.5 743.8L280 743.9L281.5 743.9L283 743.9L284.5 743.9L286 744L287.5 744L289 744.1L290.5 744.1L292 744.2L293.5 744.3L295 744.4L296.5 744.6L298 744.7L299.5 745L301 745.2L302.5 745.5L303.9 745.8L305.4 746.1L306.8 746.5L308.2 747L309.6 747.6L311 748.2L312.3 748.9L313.6 749.7L314.8 750.5L316 751.4L317.2 752.3L318.3 753.3L319.4 754.3L320.5 755.3L321.6 756.3L322.7 757.3L323.9 758.3L325 759.3L326.2 760.2L327.5 761L328.7 761.8L330.1 762.5L331.4 763.2L332.7 763.9L334.1 764.5L335.4 765.2L336.7 765.9L338.1 766.6L339.4 767.3L340.7 768L342 768.7L343.3 769.5L344.5 770.3L345.8 771.2L347 772.1L348.1 773L349.3 774L350.4 775L351.5 776.1L352.5 777.1L353.5 778.2L354.5 779.3L355.5 780.5L356.5 781.6L357.4 782.8L358.3 784L359.2 785.2L360.1 786.4L360.9 787.7L361.7 788.9L362.5 790.2L363.3 791.5L364.1 792.7L364.9 794L365.6 795.3L366.3 796.6L367.1 798L367.8 799.3L368.4 800.6L369.1 802L369.8 803.3L370.5 804.7L371.1 806L371.7 807.4L372.4 808.7L373 810.1L373.5 811.5L374.1 812.9L374.7 814.3L375.2 815.7L375.7 817.1L376.3 818.5L376.8 819.9L377.3 821.3L377.7 822.7L378.2 824.2L378.7 825.6L379.1 827L379.6 828.4L380.1 829.9L380.5 831.3L381 832.7L381.4 834.2L381.9 835.6L382.3 837L382.8 838.5L383.3 839.9L383.7 841.3L384.2 842.7L384.6 844.2L385.1 845.6L385.5 847L386 848.5L386.4 849.9L386.8 851.3L387.3 852.8L387.7 854.2L388.2 855.6L388.6 857.1L389 858.5L389.5 860L389.9 861.4L390.4 862.8L390.8 864.3L391.2 865.7L391.7 867.1L392.1 868.6L392.5 870L393 871.4L393.4 872.9L393.8 874.3L394.2 875.8L394.7 877.2L395.1 878.6L395.5 880.1L396 881.5L396.4 883L396.8 884.4L397.2 885.8L397.7 887.3L398.1 888.7L398.5 890.2L398.9 891.6L399.4 893L399.8 894.5L400.2 895.9L400.6 897.3L401.1 898.8L401.5 900.2L401.9 901.7L402.3 903.1L402.7 904.6L403.2 906L403.6 907.4L404 908.9L404.4 910.3L404.8 911.8L405.3 913.2L405.7 914.6L406.1 916.1L406.5 917.5L406.9 919L407.4 920.4L407.8 921.8L408.2 923.3L408.6 924.7L409 926.2L409.5 927.6L409.9 929L410.3 930.5L410.7 931.9L411.2 933.4L411.6 934.8L412 936.2L412.4 937.7L412.9 939.1L413.3 940.6L413.7 942L414.2 943.4L414.6 944.9L415 946.3L415.5 947.7L415.9 949.2L416.3 950.6L416.8 952L417.2 953.5L417.7 954.9L418.1 956.3L418.6 957.8L419 959.2L419.5 960.6L419.9 962.1L420.4 963.5L420.9 964.9L421.3 966.3L421.8 967.8L422.3 969.2L422.8 970.6L423.3 972L423.7 973.5L424.2 974.9L424.7 976.3L425.2 977.7L425.6 979.1L426.1 980.6L426.6 982L427 983.4L427.5 984.9L427.9 986.3L428.3 987.7L428.8 989.2L429.2 990.6L429.6 992.1L430.1 993.5L430.5 994.9L431 996.4L431.5 997.8L431.9 999.2L432.4 1000.6L432.9 1002L433.5 1003.4L434 1004.8L434.5 1006.2L435 1007.6L435.6 1009.1L436.1 1010.5L436.6 1011.9L437.2 1013.3L437.7 1014.7L438.3 1016.1L438.8 1017.4L439.4 1018.8L440 1020.2L440.5 1021.6L441.1 1023L441.7 1024.4L442.3 1025.8L442.9 1027.1L443.5 1028.5L444.1 1029.9L444.7 1031.2L445.4 1032.6L446 1034L446.7 1035.3L447.4 1036.6L448.1 1038L448.8 1039.3L449.5 1040.6L450.3 1041.9L451 1043.2L451.8 1044.5L452.6 1045.7L453.4 1047L454.3 1048.2L455.2 1049.4L456.1 1050.6L457 1051.8L458 1053L458.9 1054.1L459.9 1055.2L460.9 1056.3L462 1057.4L463 1058.5L464.1 1059.5L465.2 1060.6L466.3 1061.6L467.4 1062.6L468.5 1063.6L469.7 1064.5L470.8 1065.5L472 1066.4L473.2 1067.4L474.4 1068.3L475.6 1069.1L476.8 1070L478.1 1070.9L479.3 1071.7L480.6 1072.5L481.8 1073.3L483.1 1074.1L484.4 1074.8L485.8 1075.5L487.1 1076.2L488.4 1076.9L489.8 1077.5L491.2 1078.1L492.5 1078.7L493.9 1079.3L495.3 1079.9L496.7 1080.4L498.1 1080.9L499.5 1081.4L501 1081.9L502.4 1082.4L503.8 1082.8L505.2 1083.3L506.7 1083.7L508.1 1084.1L509.6 1084.5L511 1084.9L512.5 1085.3L513.9 1085.7L515.4 1086.1L516.8 1086.5L518.3 1086.8L519.7 1087.2L521.2 1087.5L522.7 1087.9L524.1 1088.2L525.6 1088.5L527.1 1088.8L528.5 1089.1L530 1089.4L531.5 1089.6L533 1089.9L534.4 1090.1L535.9 1090.4L537.4 1090.7L538.9 1090.9L540.4 1091.2L541.8 1091.5L543.3 1091.7L544.8 1092L546.3 1092.3L547.7 1092.6L549.2 1092.8L550.7 1093.1L552.2 1093.3L553.7 1093.5L555.1 1093.7L556.6 1093.9L558.1 1094.1L559.6 1094.3L561.1 1094.5L562.6 1094.6L564.1 1094.8L565.6 1094.9L567.1 1095.1L568.6 1095.2L570.1 1095.4L571.6 1095.5L573 1095.6L574.5 1095.8L576 1095.9L577.5 1096L579 1096.2L580.5 1096.3L582 1096.4L583.5 1096.5L585 1096.7L586.5 1096.8L588 1096.9L589.5 1097L591 1097.1L592.5 1097.2L594 1097.3L595.5 1097.4L597 1097.5L598.5 1097.6L600 1097.7L601.5 1097.8L603 1097.9L604.5 1098L606 1098L607.5 1098.1L609 1098.2L610.5 1098.2L612 1098.3L613.5 1098.3L615 1098.4L616.5 1098.4L618 1098.5L619.5 1098.5L621 1098.6L622.5 1098.6L624 1098.6L625.5 1098.7L627 1098.7L628.5 1098.7L630 1098.7L631.5 1098.8L633 1098.8L634.5 1098.8L636 1098.8L637.5 1098.8L639 1098.8L640.5 1098.8L642 1098.8L643.5 1098.8L645 1098.8L646.5 1098.8L648 1098.8L649.5 1098.8L651 1098.8L652.5 1098.8L654 1098.8L655.5 1098.7L657 1098.7L658.5 1098.7L660 1098.6L661.5 1098.6L663 1098.6L664.5 1098.5L666 1098.5L667.5 1098.4L669 1098.4L670.5 1098.3L672 1098.3L673.5 1098.2L675 1098.2L676.5 1098.1L678 1098.1L679.5 1098L681 1098L682.5 1097.9L684 1097.9L685.5 1097.8L687 1097.8L688.5 1097.8L690 1097.7L691.5 1097.7L692.9 1097.6L694.3 1097.6L695.4 1097.6L697.5 1097.5" fill="none" stroke="#000" stroke-width="4.3" stroke-linecap="round" stroke-linejoin="round" />
<path d="M187 1166.2L189.1 1166.2L190.2 1166.2L191.6 1166.2L193 1166.2L194.5 1166.2L196 1166.2L197.5 1166.2L199 1166.2L200.5 1166.1L202 1166.1L203.5 1166.1L205 1166.1L206.5 1166.1L208 1166.1L209.5 1166.1L211 1166.1L212.5 1166L214 1166L215.5 1166L217 1166L218.5 1166L220 1166L221.5 1166L223 1166L224.5 1165.9L226 1165.9L227.5 1165.9L229 1165.9L230.5 1165.9L232 1165.9L233.5 1165.9L235 1165.9L236.5 1165.8L238 1165.8L239.5 1165.8L241 1165.8L242.5 1165.8L244 1165.8L245.5 1165.8L247 1165.7L248.5 1165.7L250 1165.7L251.5 1165.7L253 1165.7L254.5 1165.6L256 1165.6L257.5 1165.6L259 1165.6L260.5 1165.6L262 1165.5L263.5 1165.5L265 1165.5L266.5 1165.5L268 1165.4L269.5 1165.4L271 1165.4L272.5 1165.4L274 1165.3L275.5 1165.3L277 1165.3L278.5 1165.2L280 1165.2L281.5 1165.2L283 1165.1L284.5 1165.1L286 1165L287.5 1165L289 1164.9L290.5 1164.9L292 1164.8L293.5 1164.7L295 1164.5L296.5 1164.4L298 1164.2L299.5 1164.1L301 1163.9L302.5 1163.7L304 1163.4L305.4 1163.2L306.9 1162.8L308.3 1162.5L309.8 1162L311.2 1161.6L312.6 1161.1L314 1160.5L315.4 1160L316.7 1159.3L318.1 1158.6L319.4 1157.9L320.7 1157.1L321.9 1156.4L323.2 1155.6L324.5 1154.8L325.8 1154.1L327.1 1153.4L328.5 1152.7L329.8 1152.1L331.2 1151.5L332.6 1150.9L334 1150.3L335.4 1149.7L336.7 1149.1L338.1 1148.6L339.5 1147.9L340.8 1147.3L342.2 1146.6L343.5 1145.9L344.8 1145.2L346.1 1144.4L347.3 1143.6L348.6 1142.7L349.8 1141.8L351 1140.9L352.2 1140L353.3 1139.1L354.5 1138.1L355.6 1137.2L356.8 1136.2L357.9 1135.1L358.9 1134.1L360 1133L361 1131.9L362 1130.8L362.9 1129.6L363.9 1128.5L364.8 1127.3L365.7 1126.1L366.5 1124.8L367.3 1123.6L368.1 1122.3L368.9 1121L369.7 1119.7L370.5 1118.4L371.2 1117.1L371.9 1115.8L372.7 1114.5L373.4 1113.2L374.1 1111.9L374.8 1110.5L375.5 1109.2L376.1 1107.9L376.8 1106.5L377.5 1105.2L378.1 1103.8L378.8 1102.5L379.5 1101.2L380.1 1099.8L380.8 1098.5L381.5 1097.1L382.1 1095.8L382.8 1094.4L383.5 1093.1L384.1 1091.7L384.7 1090.4L385.4 1089L386 1087.6L386.6 1086.3L387.2 1084.9L387.8 1083.5L388.5 1082.2L389.1 1080.8L389.7 1079.4L390.3 1078.1L390.9 1076.7L391.5 1075.3L392.2 1074L392.8 1072.6L393.4 1071.2L394 1069.9L394.7 1068.5L395.3 1067.1L395.9 1065.8L396.5 1064.4L397.2 1063L397.8 1061.7L398.4 1060.3L399 1058.9L399.6 1057.6L400.2 1056.2L400.9 1054.8L401.5 1053.5L402.1 1052.1L402.7 1050.7L403.3 1049.3L403.9 1048L404.5 1046.6L405.2 1045.2L405.8 1043.9L406.4 1042.5L407.1 1041.2L407.8 1039.8L408.5 1038.5L409.2 1037.2L409.9 1035.9L410.7 1034.6L411.4 1033.3L412.2 1032L413 1030.7L413.8 1029.4L414.6 1028.2L415.4 1026.9L416.2 1025.6L417 1024.4L417.8 1023.1L418.7 1021.9L419.6 1020.7L420.4 1019.5L421.3 1018.3L422.2 1017.1L423.1 1015.9L424.1 1014.7L425 1013.5L425.9 1012.4L426.9 1011.2L427.9 1010L428.8 1008.9L429.8 1007.7L430.8 1006.6L431.8 1005.5L432.8 1004.4L433.8 1003.3L434.8 1002.2L435.9 1001.1L437 1000.1L438.1 999.1L439.2 998.1L440.4 997.2L441.6 996.3L442.9 995.5L444.2 994.7L445.5 994L446.8 993.4L448.2 992.8L449.6 992.3L451 991.9L452.5 991.5L453.9 991.3L455.4 991.1L456.9 990.9L458.4 990.8L459.9 990.7L461.4 990.7L462.9 990.6L464.4 990.6L465.9 990.6L467.4 990.6L468.9 990.6L470.4 990.7L471.9 990.7L473.4 990.8L474.9 990.8L476.4 990.9L477.9 991L479.4 991L480.9 991.1L482.4 991.2L483.9 991.3L485.4 991.4L486.9 991.4L488.4 991.5L489.9 991.6L491.4 991.6L492.9 991.6L494.4 991.7L495.9 991.6L497.4 991.6L498.9 991.6L500.4 991.5L501.9 991.4L503.4 991.3L504.9 991.2L506.4 991.1L507.9 990.9L509.4 990.8L510.8 990.6L512.3 990.4L513.8 990.2L515.3 990L516.8 989.7L518.3 989.5L519.7 989.3L521.2 989L522.7 988.8L524.2 988.5L525.7 988.2L527.1 988L528.6 987.7L530.1 987.4L531.6 987.2L533 986.9L534.5 986.6L536 986.3L537.5 986L538.9 985.8L540.4 985.5L541.9 985.2L543.3 984.9L544.8 984.6L546.3 984.3L547.8 984L549.2 983.7L550.7 983.4L552.2 983.1L553.7 982.9L555.1 982.6L556.6 982.4L558.1 982.1L559.6 981.9L561.1 981.7L562.5 981.4L564 981.2L565.5 981L567 980.8L568.5 980.5L570 980.3L571.5 980.1L572.9 979.9L574.4 979.7L575.9 979.5L577.4 979.3L578.9 979.1L580.4 978.9L581.9 978.8L583.4 978.6L584.9 978.4L586.3 978.2L587.8 978.1L589.3 977.9L590.8 977.7L592.3 977.6L593.8 977.4L595.3 977.3L596.8 977.2L598.3 977L599.8 976.9L601.3 976.7L602.8 976.6L604.3 976.5L605.8 976.3L607.3 976.2L608.7 976L610.2 975.9L611.7 975.7L613.2 975.6L614.7 975.5L616.2 975.3L617.7 975.2L619.2 975.1L620.7 975L622.2 974.9L623.7 974.8L625.2 974.7L626.7 974.7L628.2 974.6L629.7 974.5L631.2 974.5L632.7 974.4L634.2 974.3L635.7 974.3L637.2 974.2L638.7 974.2L640.2 974.1L641.7 974.1L643.2 974L644.7 974L646.2 973.9L647.7 973.9L649.2 973.9L650.7 973.8L652.2 973.8L653.7 973.8L655.2 973.7L656.7 973.7L658.2 973.7L659.7 973.6L661.2 973.6L662.7 973.6L664.2 973.6L665.7 973.5L667.2 973.5L668.7 973.5L670.2 973.5L671.7 973.5L673.2 973.5L674.7 973.5L676.2 973.5L677.7 973.5L679.2 973.6L680.7 973.6L682.2 973.6L683.7 973.7L685.2 973.7L686.7 973.8L688.2 973.8L689.7 973.9L691.2 974L692.6 974L694 974.1L695.1 974.1L697.2 974.2" fill="none" stroke="#ff0000" stroke-width="4.3" stroke-linecap="round" stroke-linejoin="round" />
<path d="M187 1177L189.1 1177L190.2 1177L191.6 1177L193 1177L194.5 1177L196 1177L197.5 1177L199 1177L200.5 1177L202 1177L203.5 1177L205 1177L206.5 1177L208 1177L209.5 1176.9L211 1176.9L212.5 1176.9L214 1176.9L215.5 1176.9L217 1176.9L218.5 1176.9L220 1176.9L221.5 1176.9L223 1176.9L224.5 1176.9L226 1176.9L227.5 1176.9L229 1176.9L230.5 1176.9L232 1176.9L233.5 1176.9L235 1176.9L236.5 1176.9L238 1176.9L239.5 1176.9L241 1176.8L242.5 1176.8L244 1176.8L245.5 1176.8L247 1176.8L248.5 1176.8L250 1176.8L251.5 1176.8L253 1176.8L254.5 1176.8L256 1176.8L257.5 1176.7L259 1176.7L260.5 1176.7L262 1176.7L263.5 1176.7L265 1176.7L266.5 1176.7L268 1176.6L269.5 1176.6L271 1176.6L272.5 1176.6L274 1176.6L275.5 1176.5L277 1176.5L278.5 1176.5L280 1176.5L281.5 1176.4L283 1176.4L284.5 1176.4L286 1176.4L287.5 1176.3L289 1176.3L290.5 1176.3L292 1176.2L293.5 1176.2L295 1176.1L296.5 1176L298 1176L299.5 1175.8L301 1175.7L302.5 1175.6L304 1175.5L305.5 1175.3L307 1175.2L308.4 1175L309.9 1174.8L311.4 1174.5L312.9 1174.2L314.3 1173.9L315.8 1173.6L317.3 1173.3L318.7 1172.8L320.1 1172.4L321.5 1171.9L322.9 1171.4L324.4 1170.9L325.8 1170.4L327.2 1170L328.7 1169.6L330.1 1169.2L331.6 1168.8L333 1168.5L334.5 1168.1L335.9 1167.7L337.4 1167.3L338.8 1166.9L340.2 1166.4L341.6 1165.9L343 1165.4L344.4 1164.9L345.8 1164.3L347.2 1163.7L348.6 1163.1L349.9 1162.5L351.3 1161.8L352.6 1161.1L354 1160.5L355.3 1159.7L356.6 1159L357.9 1158.3L359.2 1157.5L360.4 1156.7L361.7 1155.8L362.9 1155L364.1 1154.1L365.3 1153.1L366.4 1152.2L367.6 1151.2L368.7 1150.2L369.8 1149.2L370.8 1148.1L371.9 1147L372.9 1145.9L373.9 1144.8L374.8 1143.7L375.8 1142.5L376.7 1141.3L377.5 1140.1L378.4 1138.8L379.2 1137.6L380 1136.3L380.8 1135L381.5 1133.7L382.3 1132.4L383 1131.1L383.7 1129.8L384.5 1128.5L385.1 1127.2L385.8 1125.8L386.5 1124.5L387.1 1123.1L387.8 1121.8L388.4 1120.4L389 1119L389.6 1117.7L390.2 1116.3L390.8 1114.9L391.3 1113.5L391.9 1112.1L392.4 1110.7L393 1109.3L393.5 1107.9L394.1 1106.5L394.7 1105.2L395.2 1103.8L395.8 1102.4L396.3 1101L396.8 1099.6L397.3 1098.1L397.8 1096.7L398.3 1095.3L398.8 1093.9L399.2 1092.4L399.6 1091L400.1 1089.6L400.5 1088.1L400.9 1086.7L401.4 1085.3L401.8 1083.8L402.2 1082.4L402.7 1081L403.1 1079.5L403.5 1078.1L404 1076.7L404.4 1075.2L404.9 1073.8L405.3 1072.4L405.7 1070.9L406.2 1069.5L406.6 1068L407.1 1066.6L407.5 1065.2L407.9 1063.7L408.4 1062.3L408.8 1060.9L409.2 1059.4L409.7 1058L410.1 1056.6L410.5 1055.1L410.9 1053.7L411.3 1052.2L411.8 1050.8L412.2 1049.4L412.6 1047.9L413 1046.5L413.5 1045L413.9 1043.6L414.3 1042.2L414.8 1040.7L415.2 1039.3L415.7 1037.9L416.1 1036.4L416.6 1035L417.1 1033.6L417.5 1032.2L418 1030.8L418.5 1029.3L419 1027.9L419.5 1026.5L419.9 1025.1L420.4 1023.6L420.8 1022.2L421.3 1020.8L421.7 1019.3L422.1 1017.9L422.5 1016.5L422.9 1015L423.4 1013.6L423.8 1012.1L424.2 1010.7L424.6 1009.2L425 1007.8L425.4 1006.4L425.8 1004.9L426.2 1003.5L426.6 1002L427 1000.6L427.4 999.1L427.9 997.7L428.3 996.3L428.7 994.8L429.1 993.4L429.6 991.9L430 990.5L430.4 989.1L430.9 987.6L431.3 986.2L431.7 984.8L432.2 983.3L432.6 981.9L433.1 980.5L433.6 979L434 977.6L434.5 976.2L435 974.8L435.4 973.3L435.9 971.9L436.4 970.5L436.9 969.1L437.3 967.7L437.8 966.2L438.3 964.8L438.9 963.4L439.4 962L440 960.6L440.6 959.3L441.2 957.9L441.8 956.5L442.5 955.2L443.1 953.8L443.8 952.5L444.5 951.1L445.1 949.8L445.8 948.5L446.5 947.1L447.2 945.8L447.9 944.5L448.6 943.1L449.3 941.8L450 940.5L450.7 939.2L451.5 937.9L452.2 936.6L452.9 935.3L453.7 934L454.4 932.7L455.2 931.4L456 930.1L456.7 928.8L457.5 927.5L458.3 926.2L459 924.9L459.8 923.7L460.6 922.4L461.4 921.1L462.2 919.9L463 918.6L463.9 917.3L464.7 916.1L465.6 914.9L466.5 913.7L467.4 912.5L468.3 911.3L469.3 910.2L470.3 909.1L471.3 908L472.4 906.9L473.4 905.8L474.5 904.8L475.5 903.7L476.6 902.7L477.7 901.6L478.7 900.6L479.8 899.5L480.8 898.4L481.9 897.3L482.9 896.2L483.9 895.1L484.9 894L485.9 892.9L487 891.8L488 890.7L489 889.6L490.1 888.6L491.2 887.5L492.3 886.5L493.4 885.5L494.5 884.5L495.6 883.5L496.8 882.6L498 881.7L499.2 880.7L500.3 879.8L501.6 878.9L502.8 878.1L504 877.2L505.2 876.4L506.5 875.6L507.8 874.8L509.1 874L510.4 873.2L511.7 872.5L513 871.8L514.3 871.1L515.7 870.4L517 869.8L518.4 869.1L519.7 868.5L521.1 867.9L522.5 867.4L523.9 866.8L525.3 866.3L526.7 865.8L528.1 865.3L529.5 864.7L530.9 864.2L532.3 863.7L533.7 863.2L535.2 862.7L536.6 862.2L538 861.7L539.4 861.2L540.8 860.7L542.3 860.3L543.7 859.8L545.1 859.4L546.6 858.9L548 858.5L549.4 858.1L550.9 857.7L552.3 857.3L553.8 856.9L555.2 856.5L556.7 856.2L558.1 855.8L559.6 855.5L561.1 855.2L562.5 854.9L564 854.6L565.5 854.3L566.9 854L568.4 853.7L569.9 853.5L571.4 853.2L572.9 853L574.3 852.8L575.8 852.6L577.3 852.4L578.8 852.2L580.3 852L581.8 851.8L583.3 851.7L584.8 851.5L586.3 851.4L587.8 851.3L589.3 851.2L590.8 851.1L592.2 851L593.7 850.9L595.2 850.8L596.7 850.7L598.2 850.6L599.7 850.5L601.2 850.4L602.7 850.3L604.2 850.2L605.7 850.1L607.2 850.1L608.7 850L610.2 849.9L611.7 849.8L613.2 849.8L614.7 849.7L616.2 849.7L617.7 849.6L619.2 849.5L620.7 849.5L622.2 849.4L623.7 849.4L625.2 849.4L626.7 849.3L628.2 849.3L629.7 849.2L631.2 849.2L632.7 849.2L634.2 849.2L635.7 849.1L637.2 849.1L638.7 849.1L640.2 849.1L641.7 849.1L643.2 849.1L644.7 849L646.2 849L647.7 849L649.2 849L650.7 849L652.2 849L653.7 849L655.2 849L656.7 849L658.2 849L659.7 849L661.2 849L662.7 848.9L664.2 848.9L665.7 848.9L667.2 848.9L668.7 849L670.2 849L671.7 849L673.2 849L674.7 849L676.2 849L677.7 849L679.2 849.1L680.7 849.1L682.2 849.1L683.7 849.2L685.2 849.2L686.7 849.3L688.2 849.3L689.7 849.4L691.2 849.4L692.6 849.4L694 849.5L695.1 849.5L697.2 849.6" fill="none" stroke="#0000ff" stroke-width="4.3" stroke-linecap="round" stroke-linejoin="round" />
<line x1="91.5" y1="711.6" x2="91.5" y2="1217.2" stroke="#000" stroke-width="2.1" /><line x1="90.5" y1="1216.2" x2="780.1" y2="1216.2" stroke="#000" stroke-width="2.1" /><line x1="90.5" y1="712.6" x2="780.1" y2="712.6" stroke="#000" stroke-width="2.1" /><line x1="779.1" y1="711.6" x2="779.1" y2="1217.2" stroke="#000" stroke-width="2.1" />
<line x1="91.5" y1="1216.2" x2="91.5" y2="1227.2" stroke="#000" stroke-width="2.1" /><line x1="189.7" y1="1216.2" x2="189.7" y2="1227.2" stroke="#000" stroke-width="2.1" /><line x1="287.9" y1="1216.2" x2="287.9" y2="1227.2" stroke="#000" stroke-width="2.1" /><line x1="386.2" y1="1216.2" x2="386.2" y2="1227.2" stroke="#000" stroke-width="2.1" /><line x1="484.4" y1="1216.2" x2="484.4" y2="1227.2" stroke="#000" stroke-width="2.1" /><line x1="582.6" y1="1216.2" x2="582.6" y2="1227.2" stroke="#000" stroke-width="2.1" /><line x1="680.9" y1="1216.2" x2="680.9" y2="1227.2" stroke="#000" stroke-width="2.1" /><line x1="779.1" y1="1216.2" x2="779.1" y2="1227.2" stroke="#000" stroke-width="2.1" /><line x1="140.6" y1="1216.2" x2="140.6" y2="1222.4" stroke="#000" stroke-width="2.1" /><line x1="238.8" y1="1216.2" x2="238.8" y2="1222.4" stroke="#000" stroke-width="2.1" /><line x1="337.1" y1="1216.2" x2="337.1" y2="1222.4" stroke="#000" stroke-width="2.1" /><line x1="435.3" y1="1216.2" x2="435.3" y2="1222.4" stroke="#000" stroke-width="2.1" /><line x1="533.5" y1="1216.2" x2="533.5" y2="1222.4" stroke="#000" stroke-width="2.1" /><line x1="631.7" y1="1216.2" x2="631.7" y2="1222.4" stroke="#000" stroke-width="2.1" /><line x1="730" y1="1216.2" x2="730" y2="1222.4" stroke="#000" stroke-width="2.1" /><text class="ls" transform="translate(91.5 1251.5) scale(1.0 1.04)" font-size="22.5" text-anchor="middle" fill="#000"  stroke="#000" stroke-width="0.4">-2.0</text><text class="ls" transform="translate(189.7 1251.5) scale(1.0 1.04)" font-size="22.5" text-anchor="middle" fill="#000"  stroke="#000" stroke-width="0.4">-1.5</text><text class="ls" transform="translate(287.9 1251.5) scale(1.0 1.04)" font-size="22.5" text-anchor="middle" fill="#000"  stroke="#000" stroke-width="0.4">-1.0</text><text class="ls" transform="translate(386.2 1251.5) scale(1.0 1.04)" font-size="22.5" text-anchor="middle" fill="#000"  stroke="#000" stroke-width="0.4">-0.5</text><text class="ls" transform="translate(484.4 1251.5) scale(1.0 1.04)" font-size="22.5" text-anchor="middle" fill="#000"  stroke="#000" stroke-width="0.4">0.0</text><text class="ls" transform="translate(582.6 1251.5) scale(1.0 1.04)" font-size="22.5" text-anchor="middle" fill="#000"  stroke="#000" stroke-width="0.4">0.5</text><text class="ls" transform="translate(680.9 1251.5) scale(1.0 1.04)" font-size="22.5" text-anchor="middle" fill="#000"  stroke="#000" stroke-width="0.4">1.0</text><text class="ls" transform="translate(779.1 1251.5) scale(1.0 1.04)" font-size="22.5" text-anchor="middle" fill="#000"  stroke="#000" stroke-width="0.4">1.5</text>
<line x1="80.5" y1="1186.6" x2="91.5" y2="1186.6" stroke="#000" stroke-width="2.1" /><line x1="80.5" y1="1127.3" x2="91.5" y2="1127.3" stroke="#000" stroke-width="2.1" /><line x1="80.5" y1="1068.1" x2="91.5" y2="1068.1" stroke="#000" stroke-width="2.1" /><line x1="80.5" y1="1008.8" x2="91.5" y2="1008.8" stroke="#000" stroke-width="2.1" /><line x1="80.5" y1="949.6" x2="91.5" y2="949.6" stroke="#000" stroke-width="2.1" /><line x1="80.5" y1="890.3" x2="91.5" y2="890.3" stroke="#000" stroke-width="2.1" /><line x1="80.5" y1="831.1" x2="91.5" y2="831.1" stroke="#000" stroke-width="2.1" /><line x1="80.5" y1="771.8" x2="91.5" y2="771.8" stroke="#000" stroke-width="2.1" /><line x1="80.5" y1="712.6" x2="91.5" y2="712.6" stroke="#000" stroke-width="2.1" /><line x1="85.3" y1="1216.2" x2="91.5" y2="1216.2" stroke="#000" stroke-width="2.1" /><line x1="85.3" y1="1157" x2="91.5" y2="1157" stroke="#000" stroke-width="2.1" /><line x1="85.3" y1="1097.7" x2="91.5" y2="1097.7" stroke="#000" stroke-width="2.1" /><line x1="85.3" y1="1038.5" x2="91.5" y2="1038.5" stroke="#000" stroke-width="2.1" /><line x1="85.3" y1="979.2" x2="91.5" y2="979.2" stroke="#000" stroke-width="2.1" /><line x1="85.3" y1="920" x2="91.5" y2="920" stroke="#000" stroke-width="2.1" /><line x1="85.3" y1="860.7" x2="91.5" y2="860.7" stroke="#000" stroke-width="2.1" /><line x1="85.3" y1="801.5" x2="91.5" y2="801.5" stroke="#000" stroke-width="2.1" /><line x1="85.3" y1="742.2" x2="91.5" y2="742.2" stroke="#000" stroke-width="2.1" /><text class="ls" transform="translate(74.5 1194.3) scale(1.0 1.04)" font-size="22.5" text-anchor="end" fill="#000"  stroke="#000" stroke-width="0.4">0.0</text><text class="ls" transform="translate(74.5 1135) scale(1.0 1.04)" font-size="22.5" text-anchor="end" fill="#000"  stroke="#000" stroke-width="0.4">0.1</text><text class="ls" transform="translate(74.5 1075.8) scale(1.0 1.04)" font-size="22.5" text-anchor="end" fill="#000"  stroke="#000" stroke-width="0.4">0.2</text><text class="ls" transform="translate(74.5 1016.5) scale(1.0 1.04)" font-size="22.5" text-anchor="end" fill="#000"  stroke="#000" stroke-width="0.4">0.3</text><text class="ls" transform="translate(74.5 957.3) scale(1.0 1.04)" font-size="22.5" text-anchor="end" fill="#000"  stroke="#000" stroke-width="0.4">0.4</text><text class="ls" transform="translate(74.5 898) scale(1.0 1.04)" font-size="22.5" text-anchor="end" fill="#000"  stroke="#000" stroke-width="0.4">0.5</text><text class="ls" transform="translate(74.5 838.8) scale(1.0 1.04)" font-size="22.5" text-anchor="end" fill="#000"  stroke="#000" stroke-width="0.4">0.6</text><text class="ls" transform="translate(74.5 779.5) scale(1.0 1.04)" font-size="22.5" text-anchor="end" fill="#000"  stroke="#000" stroke-width="0.4">0.7</text><text class="ls" transform="translate(74.5 720.3) scale(1.0 1.04)" font-size="22.5" text-anchor="end" fill="#000"  stroke="#000" stroke-width="0.4">0.8</text>
<text class="ls" transform="translate(333.5 1298.3) scale(1 1.04)" font-size="26.4" stroke="#000" stroke-width="0.4" letter-spacing="0.27"><tspan font-style="italic">E</tspan> (vs. Fc/Fc<tspan font-size="15.8" dy="-11.4">+</tspan><tspan dy="11.4">) (V)</tspan></text>
<text class="ls" transform="translate(22 972) rotate(-90) scale(1.0 1.04)" font-size="26.4" text-anchor="middle" fill="#000"  stroke="#000" stroke-width="0.4" letter-spacing="0.3">absorption (a.u.)</text>
<text class="ls" transform="translate(771.5 1202.5) scale(1.0 1.04)" font-size="26.2" text-anchor="end" fill="#000"  stroke="#000" stroke-width="0.4" letter-spacing="0.3">Charge</text>
<text class="ls" transform="translate(672 880) scale(1.0 1.04)" font-size="28" text-anchor="start" fill="#000"  stroke="#000" stroke-width="0.4" letter-spacing="0.3">B</text>
<text class="ls" transform="translate(677 1005) scale(1.0 1.04)" font-size="28" text-anchor="start" fill="#000"  stroke="#000" stroke-width="0.4" letter-spacing="0.3">P</text>
<text class="ls" transform="translate(677 1129.5) scale(1.0 1.04)" font-size="28" text-anchor="start" fill="#000"  stroke="#000" stroke-width="0.4" letter-spacing="0.3">N</text>
<line x1="625.3" y1="735.5" x2="673.2" y2="735.5" stroke="#000" stroke-width="4.2" stroke-linecap="round"/>
<text class="ls" transform="translate(680 743.5) scale(1.0 1.04)" font-size="22.5" text-anchor="start" fill="#000"  stroke="#000" stroke-width="0.4">630 nm</text>
<line x1="625.3" y1="762.4" x2="673.2" y2="762.4" stroke="#ff0000" stroke-width="4.2" stroke-linecap="round"/>
<text class="ls" transform="translate(680 770.4) scale(1.0 1.04)" font-size="22.5" text-anchor="start" fill="#000"  stroke="#000" stroke-width="0.4">935 nm</text>
<line x1="625.3" y1="789.3" x2="673.2" y2="789.3" stroke="#0000ff" stroke-width="4.2" stroke-linecap="round"/>
<text class="ls" transform="translate(680 797.3) scale(1.0 1.04)" font-size="22.5" text-anchor="start" fill="#000"  stroke="#000" stroke-width="0.4">1550 nm</text>
<line x1="187" y1="728.7" x2="231" y2="729.3" stroke="#000" stroke-width="1.2" /><line x1="186.9" y1="734.4" x2="187.1" y2="723" stroke="#000" stroke-width="1.2" /><polygon points="247,729.5 223.9,735.7 231,729.3 224.1,722.7" fill="#000"/>
</g>
<g>
<path d="M182 1400.5L184.1 1400.6L185.2 1400.6L186.6 1400.7L188 1400.8L189.5 1400.8L191 1400.9L192.5 1401L194 1401L195.5 1401.1L197 1401.2L198.5 1401.2L200 1401.3L201.5 1401.4L203 1401.4L204.5 1401.5L206 1401.6L207.5 1401.6L209 1401.7L210.5 1401.8L212 1401.9L213.5 1401.9L215 1402L216.5 1402.1L218 1402.1L219.5 1402.2L221 1402.3L222.5 1402.4L224 1402.4L225.5 1402.5L227 1402.6L228.5 1402.7L230 1402.8L231.5 1402.9L233 1402.9L234.5 1403L236 1403.1L237.5 1403.2L239 1403.3L240.5 1403.4L242 1403.5L243.5 1403.6L244.9 1403.7L246.4 1403.8L247.9 1403.9L249.4 1404L250.9 1404.1L252.4 1404.3L253.9 1404.4L255.4 1404.6L256.9 1404.8L258.4 1405L259.9 1405.2L261.3 1405.5L262.8 1405.8L264.3 1406.2L265.7 1406.5L267.2 1406.9L268.6 1407.4L270 1407.8L271.4 1408.4L272.8 1409L274.1 1409.7L275.3 1410.5L276.6 1411.3L277.7 1412.2L278.8 1413.2L279.9 1414.3L280.9 1415.4L281.9 1416.5L282.8 1417.7L283.7 1418.9L284.4 1420.2L285.2 1421.5L285.9 1422.8L286.5 1424.2L287.1 1425.5L287.7 1426.9L288.3 1428.3L288.9 1429.7L289.4 1431.1L289.9 1432.5L290.4 1433.9L290.9 1435.3L291.4 1436.7L291.9 1438.2L292.3 1439.6L292.8 1441L293.2 1442.5L293.7 1443.9L294.1 1445.3L294.5 1446.8L294.9 1448.2L295.3 1449.7L295.7 1451.1L296.1 1452.6L296.5 1454L296.9 1455.5L297.3 1456.9L297.7 1458.3L298.1 1459.8L298.5 1461.2L298.9 1462.7L299.3 1464.1L299.7 1465.6L300 1467L300.4 1468.5L300.8 1470L301.2 1471.4L301.6 1472.9L301.9 1474.3L302.3 1475.8L302.7 1477.2L303.1 1478.7L303.4 1480.1L303.8 1481.6L304.2 1483L304.5 1484.5L304.9 1485.9L305.2 1487.4L305.6 1488.9L305.9 1490.3L306.3 1491.8L306.7 1493.2L307 1494.7L307.4 1496.2L307.7 1497.6L308.1 1499.1L308.5 1500.5L308.9 1502L309.3 1503.4L309.7 1504.9L310 1506.3L310.4 1507.8L310.8 1509.2L311.3 1510.6L311.7 1512.1L312.1 1513.5L312.5 1515L312.9 1516.4L313.3 1517.9L313.8 1519.3L314.2 1520.7L314.6 1522.2L315.1 1523.6L315.6 1525L316 1526.4L316.5 1527.9L317 1529.3L317.5 1530.7L318.1 1532.1L318.6 1533.5L319.2 1534.9L319.8 1536.3L320.4 1537.6L321 1539L321.6 1540.4L322.2 1541.8L322.8 1543.1L323.4 1544.5L324.1 1545.8L324.7 1547.2L325.3 1548.6L326 1549.9L326.6 1551.3L327.3 1552.6L327.9 1554L328.6 1555.3L329.3 1556.7L329.9 1558L330.6 1559.4L331.3 1560.7L332 1562L332.7 1563.4L333.3 1564.7L334 1566L334.7 1567.3L335.4 1568.7L336.2 1570L336.9 1571.3L337.6 1572.6L338.3 1573.9L339 1575.3L339.8 1576.6L340.5 1577.9L341.2 1579.2L342 1580.5L342.7 1581.8L343.5 1583.1L344.2 1584.4L345 1585.7L345.7 1587L346.5 1588.3L347.2 1589.6L348 1590.9L348.8 1592.2L349.5 1593.5L350.3 1594.8L351.1 1596L351.8 1597.3L352.6 1598.6L353.4 1599.9L354.1 1601.2L354.9 1602.5L355.7 1603.8L356.5 1605L357.3 1606.3L358.1 1607.6L358.9 1608.9L359.7 1610.1L360.5 1611.4L361.3 1612.7L362.1 1613.9L362.9 1615.2L363.7 1616.4L364.6 1617.7L365.4 1619L366.2 1620.2L367 1621.5L367.8 1622.7L368.6 1624L369.4 1625.3L370.2 1626.6L371 1627.8L371.8 1629.1L372.5 1630.4L373.3 1631.7L374.1 1633L374.9 1634.3L375.6 1635.5L376.4 1636.8L377.2 1638.1L378 1639.4L378.8 1640.6L379.6 1641.9L380.5 1643.1L381.3 1644.4L382.1 1645.7L382.9 1646.9L383.8 1648.2L384.6 1649.4L385.4 1650.6L386.3 1651.9L387.1 1653.1L388 1654.4L388.8 1655.6L389.7 1656.8L390.6 1658L391.4 1659.3L392.3 1660.5L393.2 1661.7L394.1 1662.9L394.9 1664.1L395.8 1665.3L396.8 1666.5L397.7 1667.7L398.6 1668.9L399.5 1670.1L400.5 1671.2L401.5 1672.4L402.5 1673.5L403.5 1674.6L404.5 1675.7L405.5 1676.8L406.5 1677.9L407.5 1679L408.5 1680.1L409.6 1681.2L410.6 1682.3L411.7 1683.4L412.7 1684.4L413.8 1685.5L414.9 1686.5L416 1687.6L417.1 1688.6L418.1 1689.6L419.2 1690.6L420.3 1691.7L421.4 1692.7L422.6 1693.7L423.7 1694.7L424.8 1695.7L426 1696.6L427.1 1697.6L428.3 1698.5L429.5 1699.4L430.7 1700.3L431.9 1701.2L433.1 1702.1L434.4 1702.9L435.6 1703.8L436.8 1704.6L438.1 1705.5L439.4 1706.3L440.6 1707.1L441.9 1707.8L443.2 1708.6L444.5 1709.4L445.8 1710.1L447.1 1710.8L448.4 1711.5L449.8 1712.2L451.1 1712.9L452.4 1713.6L453.8 1714.2L455.1 1714.9L456.5 1715.5L457.9 1716.1L459.3 1716.7L460.6 1717.3L462 1717.9L463.4 1718.5L464.8 1719.1L466.1 1719.7L467.5 1720.3L468.9 1720.9L470.3 1721.5L471.6 1722.1L473 1722.7L474.4 1723.3L475.8 1723.9L477.2 1724.4L478.6 1725L480 1725.5L481.4 1725.9L482.8 1726.4L484.3 1726.8L485.7 1727.3L487.2 1727.7L488.6 1728.1L490 1728.5L491.5 1728.9L492.9 1729.3L494.4 1729.7L495.9 1730L497.3 1730.4L498.8 1730.7L500.2 1731L501.7 1731.3L503.2 1731.6L504.7 1731.9L506.1 1732.2L507.6 1732.4L509.1 1732.7L510.6 1732.9L512.1 1733.1L513.5 1733.3L515 1733.5L516.5 1733.8L518 1734L519.5 1734.2L521 1734.4L522.5 1734.6L523.9 1734.8L525.4 1735L526.9 1735.2L528.4 1735.4L529.9 1735.6L531.4 1735.8L532.9 1735.9L534.4 1736.1L535.9 1736.3L537.3 1736.5L538.8 1736.6L540.3 1736.8L541.8 1736.9L543.3 1737.1L544.8 1737.2L546.3 1737.4L547.8 1737.5L549.3 1737.6L550.8 1737.8L552.3 1737.9L553.8 1738L555.3 1738.1L556.8 1738.2L558.3 1738.4L559.8 1738.5L561.3 1738.6L562.8 1738.7L564.3 1738.8L565.8 1738.9L567.2 1739L568.7 1739.1L570.2 1739.2L571.7 1739.3L573.2 1739.4L574.7 1739.5L576.2 1739.6L577.7 1739.6L579.2 1739.7L580.7 1739.8L582.2 1739.8L583.7 1739.9L585.2 1740L586.7 1740L588.2 1740.1L589.7 1740.1L591.2 1740.2L592.7 1740.2L594.2 1740.3L595.7 1740.3L597.2 1740.4L598.7 1740.4L600.2 1740.4L601.7 1740.4L603.2 1740.5L604.7 1740.5L606.2 1740.5L607.7 1740.5L609.2 1740.5L610.7 1740.5L612.2 1740.5L613.7 1740.5L615.2 1740.5L616.7 1740.5L618.2 1740.4L619.7 1740.4L621.2 1740.4L622.7 1740.4L624.2 1740.3L625.7 1740.3L627.2 1740.3L628.7 1740.3L630.2 1740.2L631.7 1740.2L633.2 1740.2L634.7 1740.2L636.2 1740.1L637.7 1740.1L639.2 1740.1L640.7 1740.1L642.2 1740L643.7 1740L645.2 1740L646.7 1739.9L648.2 1739.9L649.7 1739.9L651.2 1739.8L652.7 1739.8L654.2 1739.8L655.7 1739.7L657.2 1739.7L658.7 1739.6L660.3 1739.6L661.8 1739.6L663.3 1739.5L664.8 1739.5L666.3 1739.4L667.8 1739.4L669.3 1739.3L670.8 1739.3L672.3 1739.2L673.8 1739.2L675.3 1739.1L676.8 1739.1L678.3 1739.1L679.8 1739L681.3 1739L682.8 1738.9L684.3 1738.9L685.7 1738.8L687.2 1738.8L688.7 1738.7L690.2 1738.7L691.7 1738.6L693 1738.6L694.2 1738.6L696.2 1738.5" fill="none" stroke="#000" stroke-width="4.3" stroke-linecap="round" stroke-linejoin="round" />
<path d="M182 1795.2L184.1 1795.1L185.2 1795.1L186.6 1795L188 1795L189.5 1794.9L191 1794.8L192.5 1794.7L194 1794.7L195.5 1794.6L197 1794.5L198.5 1794.4L200 1794.4L201.5 1794.3L203 1794.2L204.5 1794.2L206 1794.1L207.5 1794L209 1793.9L210.5 1793.8L212 1793.8L213.5 1793.7L215 1793.6L216.5 1793.5L218 1793.4L219.5 1793.3L221 1793.3L222.5 1793.2L224 1793.1L225.5 1793L227 1792.9L228.4 1792.7L229.9 1792.6L231.4 1792.5L232.9 1792.4L234.4 1792.3L235.9 1792.1L237.4 1792L238.9 1791.9L240.4 1791.7L241.9 1791.6L243.4 1791.5L244.9 1791.3L246.4 1791.2L247.9 1791L249.4 1790.9L250.9 1790.7L252.4 1790.5L253.8 1790.4L255.3 1790.2L256.8 1790L258.3 1789.8L259.8 1789.6L261.3 1789.3L262.7 1789L264.2 1788.7L265.6 1788.3L267.1 1787.8L268.5 1787.4L269.9 1786.9L271.3 1786.3L272.7 1785.8L274 1785.1L275.3 1784.4L276.6 1783.6L277.8 1782.8L279 1781.8L280.1 1780.8L281.2 1779.8L282.2 1778.7L283.1 1777.5L284 1776.3L284.8 1775.1L285.6 1773.8L286.4 1772.5L287.2 1771.2L287.9 1769.9L288.6 1768.6L289.3 1767.3L290 1765.9L290.6 1764.6L291.3 1763.2L291.9 1761.8L292.4 1760.5L293 1759.1L293.5 1757.7L294 1756.3L294.5 1754.8L295 1753.4L295.5 1752L295.9 1750.6L296.3 1749.1L296.7 1747.7L297.2 1746.2L297.6 1744.8L298 1743.3L298.4 1741.9L298.8 1740.4L299.2 1739L299.6 1737.6L300 1736.1L300.4 1734.7L300.8 1733.2L301.2 1731.8L301.6 1730.3L302 1728.9L302.4 1727.4L302.8 1726L303.2 1724.6L303.7 1723.1L304.2 1721.7L304.6 1720.3L305.1 1718.9L305.7 1717.5L306.2 1716.1L306.7 1714.7L307.3 1713.3L307.9 1711.9L308.4 1710.5L309 1709.1L309.6 1707.7L310.2 1706.3L310.8 1705L311.4 1703.6L312 1702.2L312.6 1700.9L313.3 1699.5L313.9 1698.1L314.5 1696.8L315.2 1695.4L315.9 1694.1L316.5 1692.8L317.2 1691.4L317.9 1690.1L318.7 1688.8L319.4 1687.5L320.1 1686.2L320.9 1684.9L321.7 1683.6L322.5 1682.4L323.4 1681.1L324.2 1679.9L325.1 1678.7L326 1677.4L326.8 1676.2L327.8 1675L328.7 1673.9L329.6 1672.7L330.6 1671.6L331.6 1670.4L332.6 1669.3L333.6 1668.2L334.6 1667.1L335.6 1666L336.7 1664.9L337.7 1663.9L338.8 1662.8L339.9 1661.8L341 1660.7L342.1 1659.7L343.2 1658.7L344.3 1657.7L345.4 1656.7L346.5 1655.7L347.7 1654.7L348.8 1653.7L349.9 1652.7L351.1 1651.8L352.2 1650.8L353.3 1649.8L354.5 1648.8L355.6 1647.8L356.7 1646.8L357.8 1645.8L359 1644.9L360.1 1643.9L361.3 1642.9L362.5 1642L363.7 1641.1L364.8 1640.2L366 1639.3L367.2 1638.4L368.4 1637.5L369.6 1636.6L370.8 1635.6L372 1634.7L373.1 1633.7L374.3 1632.8L375.5 1631.8L376.6 1630.9L377.8 1629.9L379 1629L380.1 1628.1L381.4 1627.2L382.6 1626.4L383.9 1625.6L385.2 1624.9L386.5 1624.2L387.9 1623.6L389.3 1623.1L390.7 1622.6L392.1 1622.2L393.6 1621.8L395.1 1621.5L396.5 1621.2L398 1620.9L399.5 1620.7L401 1620.5L402.5 1620.3L404 1620.2L405.4 1620.1L406.9 1620.1L408.4 1620.1L409.9 1620.1L411.4 1620.2L412.9 1620.3L414.4 1620.4L415.9 1620.6L417.4 1620.8L418.9 1621L420.4 1621.2L421.8 1621.5L423.3 1621.8L424.8 1622.2L426.2 1622.5L427.7 1622.9L429.1 1623.3L430.6 1623.7L432 1624.1L433.5 1624.4L434.9 1624.8L436.4 1625.2L437.8 1625.6L439.3 1625.9L440.7 1626.3L442.2 1626.7L443.7 1627L445.1 1627.4L446.6 1627.7L448.1 1628L449.5 1628.3L451 1628.6L452.5 1628.9L453.9 1629.1L455.4 1629.4L456.9 1629.7L458.4 1629.9L459.9 1630.1L461.3 1630.4L462.8 1630.6L464.3 1630.8L465.8 1631L467.3 1631.1L468.8 1631.3L470.3 1631.4L471.8 1631.5L473.3 1631.5L474.8 1631.5L476.3 1631.5L477.8 1631.5L479.3 1631.4L480.8 1631.3L482.3 1631.2L483.8 1631.1L485.3 1630.9L486.8 1630.8L488.2 1630.6L489.7 1630.4L491.2 1630.3L492.7 1630.1L494.2 1629.8L495.7 1629.6L497.2 1629.4L498.6 1629.1L500.1 1628.9L501.6 1628.6L503.1 1628.3L504.5 1628L506 1627.7L507.5 1627.5L509 1627.2L510.4 1626.9L511.9 1626.6L513.4 1626.3L514.9 1626.1L516.3 1625.8L517.8 1625.6L519.3 1625.3L520.8 1625L522.3 1624.8L523.7 1624.5L525.2 1624.3L526.7 1624L528.2 1623.8L529.7 1623.6L531.1 1623.3L532.6 1623.1L534.1 1622.9L535.6 1622.6L537.1 1622.4L538.5 1622.2L540 1621.9L541.5 1621.7L543 1621.5L544.5 1621.3L546 1621.1L547.5 1620.9L548.9 1620.7L550.4 1620.4L551.9 1620.2L553.4 1620L554.9 1619.8L556.4 1619.6L557.9 1619.4L559.3 1619.2L560.8 1619L562.3 1618.9L563.8 1618.7L565.3 1618.5L566.8 1618.3L568.3 1618.2L569.8 1618L571.3 1617.9L572.8 1617.8L574.3 1617.6L575.8 1617.5L577.3 1617.4L578.8 1617.3L580.3 1617.2L581.8 1617.1L583.3 1617L584.7 1616.9L586.2 1616.8L587.7 1616.8L589.2 1616.7L590.7 1616.6L592.2 1616.5L593.7 1616.4L595.2 1616.4L596.7 1616.3L598.2 1616.2L599.7 1616.2L601.2 1616.1L602.7 1616L604.2 1616L605.7 1615.9L607.2 1615.8L608.7 1615.8L610.2 1615.7L611.7 1615.7L613.2 1615.6L614.7 1615.6L616.2 1615.5L617.7 1615.5L619.2 1615.5L620.7 1615.4L622.2 1615.4L623.7 1615.3L625.2 1615.3L626.7 1615.3L628.2 1615.2L629.7 1615.2L631.2 1615.2L632.7 1615.1L634.2 1615.1L635.7 1615.1L637.2 1615.1L638.7 1615L640.2 1615L641.7 1615L643.2 1615L644.7 1615L646.2 1615L647.7 1615L649.2 1615L650.7 1614.9L652.2 1614.9L653.7 1614.9L655.2 1614.9L656.7 1614.9L658.2 1614.9L659.7 1615L661.2 1615L662.7 1615L664.2 1615L665.7 1615L667.2 1615L668.7 1615L670.2 1615L671.7 1615.1L673.2 1615.1L674.7 1615.1L676.2 1615.1L677.7 1615.1L679.2 1615.2L680.7 1615.2L682.2 1615.2L683.7 1615.3L685.2 1615.3L686.7 1615.3L688.2 1615.3L689.7 1615.4L691.2 1615.4L692.6 1615.4L693.8 1615.5L694.8 1615.5L696.2 1615.5" fill="none" stroke="#ff0000" stroke-width="4.3" stroke-linecap="round" stroke-linejoin="round" />
<path d="M182 1813L184.1 1813L185.2 1812.9L186.6 1812.9L188 1812.9L189.5 1812.8L191 1812.8L192.5 1812.8L194 1812.7L195.5 1812.7L197 1812.7L198.5 1812.6L200 1812.6L201.5 1812.6L203 1812.5L204.5 1812.5L206 1812.5L207.5 1812.4L209 1812.4L210.5 1812.4L212 1812.3L213.5 1812.3L215 1812.3L216.5 1812.2L218 1812.2L219.5 1812.1L221 1812.1L222.5 1812.1L224 1812L225.5 1812L227 1811.9L228.5 1811.9L230 1811.9L231.5 1811.8L233 1811.8L234.5 1811.7L236 1811.7L237.5 1811.6L239 1811.6L240.5 1811.5L242 1811.5L243.5 1811.4L245 1811.4L246.5 1811.3L248 1811.3L249.5 1811.2L251 1811.2L252.5 1811.1L254 1811L255.5 1811L257 1810.9L258.5 1810.9L260 1810.8L261.5 1810.7L263 1810.6L264.5 1810.5L265.9 1810.4L267.4 1810.2L268.9 1809.9L270.4 1809.7L271.8 1809.4L273.3 1809L274.7 1808.6L276.2 1808.1L277.6 1807.6L278.9 1807L280.3 1806.4L281.6 1805.7L282.9 1804.9L284.1 1804L285.2 1803.1L286.3 1802.1L287.4 1801L288.4 1799.9L289.4 1798.8L290.3 1797.6L291.2 1796.4L292.1 1795.2L292.9 1794L293.7 1792.7L294.5 1791.4L295.3 1790.2L296 1788.8L296.8 1787.5L297.5 1786.2L298.1 1784.9L298.8 1783.5L299.4 1782.2L300 1780.8L300.6 1779.4L301.2 1778L301.8 1776.6L302.3 1775.2L302.9 1773.8L303.4 1772.4L303.9 1771L304.4 1769.6L304.9 1768.2L305.4 1766.8L305.9 1765.4L306.4 1764L306.9 1762.6L307.4 1761.1L307.9 1759.7L308.4 1758.3L308.9 1756.9L309.4 1755.5L309.9 1754.1L310.4 1752.6L310.9 1751.2L311.4 1749.8L311.8 1748.4L312.3 1747L312.8 1745.5L313.3 1744.1L313.8 1742.7L314.3 1741.3L314.9 1739.9L315.4 1738.5L316 1737.1L316.5 1735.7L317.1 1734.3L317.7 1732.9L318.2 1731.6L318.8 1730.2L319.4 1728.8L320 1727.4L320.6 1726.1L321.2 1724.7L321.8 1723.3L322.4 1721.9L323 1720.5L323.5 1719.1L324.1 1717.8L324.7 1716.4L325.2 1715L325.8 1713.6L326.4 1712.2L326.9 1710.8L327.5 1709.4L328.1 1708L328.6 1706.6L329.2 1705.3L329.8 1703.9L330.4 1702.5L331.1 1701.2L331.7 1699.8L332.4 1698.5L333 1697.1L333.7 1695.8L334.5 1694.5L335.2 1693.2L335.9 1691.9L336.7 1690.6L337.5 1689.3L338.2 1688L339 1686.7L339.8 1685.4L340.5 1684.1L341.3 1682.8L342.1 1681.6L342.8 1680.3L343.6 1679L344.4 1677.7L345.1 1676.4L345.9 1675.1L346.7 1673.8L347.5 1672.6L348.3 1671.3L349.1 1670L349.9 1668.7L350.7 1667.5L351.5 1666.2L352.4 1665L353.2 1663.8L354.1 1662.5L354.9 1661.3L355.8 1660.1L356.7 1658.9L357.6 1657.7L358.5 1656.5L359.4 1655.3L360.3 1654.1L361.2 1652.9L362.1 1651.7L363 1650.5L363.8 1649.2L364.7 1648L365.6 1646.8L366.5 1645.6L367.4 1644.4L368.2 1643.2L369.1 1642L370 1640.7L370.9 1639.5L371.8 1638.3L372.7 1637.1L373.5 1635.9L374.4 1634.7L375.3 1633.5L376.2 1632.2L377.1 1631L378 1629.8L378.8 1628.6L379.7 1627.4L380.6 1626.2L381.5 1625L382.4 1623.8L383.3 1622.5L384.1 1621.3L385 1620.1L385.9 1618.9L386.8 1617.7L387.7 1616.5L388.5 1615.3L389.4 1614.1L390.3 1612.8L391.2 1611.6L392.1 1610.4L393 1609.2L393.8 1608L394.7 1606.8L395.6 1605.6L396.5 1604.3L397.4 1603.1L398.2 1601.9L399.1 1600.7L400 1599.5L400.9 1598.3L401.8 1597.1L402.6 1595.8L403.5 1594.6L404.4 1593.4L405.3 1592.2L406.1 1591L407 1589.8L407.9 1588.6L408.8 1587.3L409.7 1586.1L410.6 1585L411.5 1583.8L412.5 1582.6L413.4 1581.4L414.3 1580.2L415.3 1579.1L416.2 1577.9L417.2 1576.7L418.1 1575.6L419 1574.4L420 1573.2L420.9 1572.1L421.9 1570.9L422.8 1569.7L423.7 1568.5L424.6 1567.3L425.6 1566.2L426.5 1565L427.4 1563.8L428.3 1562.6L429.3 1561.5L430.3 1560.3L431.2 1559.2L432.2 1558L433.2 1556.9L434.2 1555.8L435.2 1554.7L436.2 1553.6L437.2 1552.4L438.2 1551.3L439.2 1550.2L440.3 1549.2L441.3 1548.1L442.3 1547L443.4 1545.9L444.4 1544.8L445.5 1543.8L446.6 1542.7L447.6 1541.7L448.7 1540.6L449.8 1539.6L450.9 1538.6L452 1537.6L453.1 1536.6L454.2 1535.6L455.3 1534.6L456.5 1533.6L457.6 1532.6L458.8 1531.6L459.9 1530.7L461.1 1529.8L462.3 1528.8L463.5 1527.9L464.7 1527L465.9 1526.1L467.1 1525.2L468.3 1524.4L469.5 1523.5L470.7 1522.6L472 1521.7L473.2 1520.9L474.4 1520L475.7 1519.2L476.9 1518.4L478.2 1517.5L479.5 1516.8L480.8 1516L482.1 1515.3L483.4 1514.5L484.7 1513.8L486 1513.1L487.3 1512.4L488.7 1511.7L490 1511.1L491.4 1510.4L492.7 1509.8L494.1 1509.2L495.5 1508.6L496.9 1508L498.3 1507.5L499.6 1506.9L501.1 1506.4L502.5 1505.9L503.9 1505.4L505.3 1504.9L506.7 1504.4L508.1 1503.9L509.6 1503.4L511 1503L512.4 1502.5L513.9 1502.1L515.3 1501.7L516.7 1501.3L518.2 1500.9L519.6 1500.5L521.1 1500.1L522.5 1499.7L524 1499.4L525.5 1499L526.9 1498.7L528.4 1498.4L529.8 1498.1L531.3 1497.7L532.8 1497.4L534.3 1497.2L535.7 1496.9L537.2 1496.6L538.7 1496.3L540.2 1496.1L541.6 1495.8L543.1 1495.6L544.6 1495.3L546.1 1495.1L547.6 1494.9L549 1494.7L550.5 1494.4L552 1494.2L553.5 1494L555 1493.8L556.5 1493.6L558 1493.4L559.4 1493.2L560.9 1493L562.4 1492.8L563.9 1492.6L565.4 1492.5L566.9 1492.3L568.4 1492.2L569.9 1492L571.4 1491.9L572.9 1491.8L574.4 1491.6L575.9 1491.5L577.3 1491.4L578.8 1491.3L580.3 1491.2L581.8 1491.1L583.3 1491L584.8 1490.9L586.3 1490.8L587.8 1490.8L589.3 1490.7L590.8 1490.6L592.3 1490.5L593.8 1490.4L595.3 1490.4L596.8 1490.3L598.3 1490.2L599.8 1490.2L601.3 1490.1L602.8 1490L604.3 1490L605.8 1489.9L607.3 1489.8L608.8 1489.8L610.3 1489.7L611.8 1489.7L613.3 1489.6L614.8 1489.6L616.3 1489.5L617.8 1489.5L619.3 1489.4L620.8 1489.4L622.3 1489.4L623.8 1489.3L625.3 1489.3L626.8 1489.2L628.3 1489.2L629.8 1489.1L631.3 1489.1L632.8 1489.1L634.3 1489L635.8 1489L637.3 1489L638.8 1489L640.3 1489L641.8 1489L643.3 1489L644.8 1489.1L646.3 1489.1L647.8 1489.1L649.3 1489.2L650.8 1489.2L652.3 1489.3L653.8 1489.4L655.3 1489.4L656.8 1489.5L658.3 1489.6L659.8 1489.6L661.3 1489.7L662.8 1489.8L664.3 1489.9L665.8 1489.9L667.3 1490L668.8 1490.1L670.3 1490.1L671.8 1490.2L673.3 1490.2L674.8 1490.3L676.3 1490.4L677.8 1490.4L679.3 1490.5L680.8 1490.6L682.3 1490.6L683.8 1490.7L685.3 1490.8L686.8 1490.8L688.3 1490.9L689.7 1491L691.2 1491L692.6 1491.1L693.8 1491.1L694.8 1491.2L696.2 1491.2" fill="none" stroke="#0000ff" stroke-width="4.3" stroke-linecap="round" stroke-linejoin="round" />
<line x1="90.6" y1="1352.5" x2="90.6" y2="1858.4" stroke="#000" stroke-width="2.1" /><line x1="89.5" y1="1857.3" x2="778.9" y2="1857.3" stroke="#000" stroke-width="2.1" /><line x1="89.5" y1="1353.5" x2="778.9" y2="1353.5" stroke="#000" stroke-width="2.1" /><line x1="777.9" y1="1352.5" x2="777.9" y2="1858.4" stroke="#000" stroke-width="2.1" />
<line x1="90.6" y1="1857.3" x2="90.6" y2="1868.3" stroke="#000" stroke-width="2.1" /><line x1="188.7" y1="1857.3" x2="188.7" y2="1868.3" stroke="#000" stroke-width="2.1" /><line x1="286.9" y1="1857.3" x2="286.9" y2="1868.3" stroke="#000" stroke-width="2.1" /><line x1="385.1" y1="1857.3" x2="385.1" y2="1868.3" stroke="#000" stroke-width="2.1" /><line x1="483.3" y1="1857.3" x2="483.3" y2="1868.3" stroke="#000" stroke-width="2.1" /><line x1="581.5" y1="1857.3" x2="581.5" y2="1868.3" stroke="#000" stroke-width="2.1" /><line x1="679.7" y1="1857.3" x2="679.7" y2="1868.3" stroke="#000" stroke-width="2.1" /><line x1="777.9" y1="1857.3" x2="777.9" y2="1868.3" stroke="#000" stroke-width="2.1" /><line x1="139.7" y1="1857.3" x2="139.7" y2="1863.5" stroke="#000" stroke-width="2.1" /><line x1="237.8" y1="1857.3" x2="237.8" y2="1863.5" stroke="#000" stroke-width="2.1" /><line x1="336" y1="1857.3" x2="336" y2="1863.5" stroke="#000" stroke-width="2.1" /><line x1="434.2" y1="1857.3" x2="434.2" y2="1863.5" stroke="#000" stroke-width="2.1" /><line x1="532.4" y1="1857.3" x2="532.4" y2="1863.5" stroke="#000" stroke-width="2.1" /><line x1="630.6" y1="1857.3" x2="630.6" y2="1863.5" stroke="#000" stroke-width="2.1" /><line x1="728.8" y1="1857.3" x2="728.8" y2="1863.5" stroke="#000" stroke-width="2.1" /><text class="ls" transform="translate(90.6 1892.5) scale(1.0 1.04)" font-size="22.5" text-anchor="middle" fill="#000"  stroke="#000" stroke-width="0.4">-2.0</text><text class="ls" transform="translate(188.7 1892.5) scale(1.0 1.04)" font-size="22.5" text-anchor="middle" fill="#000"  stroke="#000" stroke-width="0.4">-1.5</text><text class="ls" transform="translate(286.9 1892.5) scale(1.0 1.04)" font-size="22.5" text-anchor="middle" fill="#000"  stroke="#000" stroke-width="0.4">-1.0</text><text class="ls" transform="translate(385.1 1892.5) scale(1.0 1.04)" font-size="22.5" text-anchor="middle" fill="#000"  stroke="#000" stroke-width="0.4">-0.5</text><text class="ls" transform="translate(483.3 1892.5) scale(1.0 1.04)" font-size="22.5" text-anchor="middle" fill="#000"  stroke="#000" stroke-width="0.4">0.0</text><text class="ls" transform="translate(581.5 1892.5) scale(1.0 1.04)" font-size="22.5" text-anchor="middle" fill="#000"  stroke="#000" stroke-width="0.4">0.5</text><text class="ls" transform="translate(679.7 1892.5) scale(1.0 1.04)" font-size="22.5" text-anchor="middle" fill="#000"  stroke="#000" stroke-width="0.4">1.0</text><text class="ls" transform="translate(777.9 1892.5) scale(1.0 1.04)" font-size="22.5" text-anchor="middle" fill="#000"  stroke="#000" stroke-width="0.4">1.5</text>
<line x1="79.6" y1="1827.7" x2="90.6" y2="1827.7" stroke="#000" stroke-width="2.1" /><line x1="79.6" y1="1768.4" x2="90.6" y2="1768.4" stroke="#000" stroke-width="2.1" /><line x1="79.6" y1="1709.1" x2="90.6" y2="1709.1" stroke="#000" stroke-width="2.1" /><line x1="79.6" y1="1649.9" x2="90.6" y2="1649.9" stroke="#000" stroke-width="2.1" /><line x1="79.6" y1="1590.6" x2="90.6" y2="1590.6" stroke="#000" stroke-width="2.1" /><line x1="79.6" y1="1531.3" x2="90.6" y2="1531.3" stroke="#000" stroke-width="2.1" /><line x1="79.6" y1="1472" x2="90.6" y2="1472" stroke="#000" stroke-width="2.1" /><line x1="79.6" y1="1412.7" x2="90.6" y2="1412.7" stroke="#000" stroke-width="2.1" /><line x1="79.6" y1="1353.5" x2="90.6" y2="1353.5" stroke="#000" stroke-width="2.1" /><line x1="84.4" y1="1857.3" x2="90.6" y2="1857.3" stroke="#000" stroke-width="2.1" /><line x1="84.4" y1="1798.1" x2="90.6" y2="1798.1" stroke="#000" stroke-width="2.1" /><line x1="84.4" y1="1738.8" x2="90.6" y2="1738.8" stroke="#000" stroke-width="2.1" /><line x1="84.4" y1="1679.5" x2="90.6" y2="1679.5" stroke="#000" stroke-width="2.1" /><line x1="84.4" y1="1620.2" x2="90.6" y2="1620.2" stroke="#000" stroke-width="2.1" /><line x1="84.4" y1="1560.9" x2="90.6" y2="1560.9" stroke="#000" stroke-width="2.1" /><line x1="84.4" y1="1501.7" x2="90.6" y2="1501.7" stroke="#000" stroke-width="2.1" /><line x1="84.4" y1="1442.4" x2="90.6" y2="1442.4" stroke="#000" stroke-width="2.1" /><line x1="84.4" y1="1383.1" x2="90.6" y2="1383.1" stroke="#000" stroke-width="2.1" /><text class="ls" transform="translate(73.3 1835.4) scale(1.0 1.04)" font-size="22.5" text-anchor="end" fill="#000"  stroke="#000" stroke-width="0.4">0.0</text><text class="ls" transform="translate(73.3 1776.1) scale(1.0 1.04)" font-size="22.5" text-anchor="end" fill="#000"  stroke="#000" stroke-width="0.4">0.1</text><text class="ls" transform="translate(73.3 1716.8) scale(1.0 1.04)" font-size="22.5" text-anchor="end" fill="#000"  stroke="#000" stroke-width="0.4">0.2</text><text class="ls" transform="translate(73.3 1657.6) scale(1.0 1.04)" font-size="22.5" text-anchor="end" fill="#000"  stroke="#000" stroke-width="0.4">0.3</text><text class="ls" transform="translate(73.3 1598.3) scale(1.0 1.04)" font-size="22.5" text-anchor="end" fill="#000"  stroke="#000" stroke-width="0.4">0.4</text><text class="ls" transform="translate(73.3 1539) scale(1.0 1.04)" font-size="22.5" text-anchor="end" fill="#000"  stroke="#000" stroke-width="0.4">0.5</text><text class="ls" transform="translate(73.3 1479.7) scale(1.0 1.04)" font-size="22.5" text-anchor="end" fill="#000"  stroke="#000" stroke-width="0.4">0.6</text><text class="ls" transform="translate(73.3 1420.4) scale(1.0 1.04)" font-size="22.5" text-anchor="end" fill="#000"  stroke="#000" stroke-width="0.4">0.7</text><text class="ls" transform="translate(73.3 1361.2) scale(1.0 1.04)" font-size="22.5" text-anchor="end" fill="#000"  stroke="#000" stroke-width="0.4">0.8</text>
<text class="ls" transform="translate(332.3 1938.5) scale(1 1.04)" font-size="26.4" stroke="#000" stroke-width="0.4" letter-spacing="0.27"><tspan font-style="italic">E</tspan> (vs. Fc/Fc<tspan font-size="15.8" dy="-11.4">+</tspan><tspan dy="11.4">) (V)</tspan></text>
<text class="ls" transform="translate(22 1612) rotate(-90) scale(1.0 1.04)" font-size="26.4" text-anchor="middle" fill="#000"  stroke="#000" stroke-width="0.4" letter-spacing="0.3">absorption (a.u.)</text>
<text class="ls" transform="translate(770.5 1841) scale(1.0 1.04)" font-size="26.2" text-anchor="end" fill="#000"  stroke="#000" stroke-width="0.4" letter-spacing="0.3">Discharge</text>
<text class="ls" transform="translate(182 1430.7) scale(1.0 1.04)" font-size="28" text-anchor="start" fill="#000"  stroke="#000" stroke-width="0.4" letter-spacing="0.3">N</text>
<text class="ls" transform="translate(180.5 1780.5) scale(1.0 1.04)" font-size="28" text-anchor="start" fill="#000"  stroke="#000" stroke-width="0.4" letter-spacing="0.3">P</text>
<text class="ls" transform="translate(181.5 1842.2) scale(1.0 1.04)" font-size="28" text-anchor="start" fill="#000"  stroke="#000" stroke-width="0.4" letter-spacing="0.3">B</text>
<line x1="620.8" y1="1376.2" x2="668.7" y2="1376.2" stroke="#000" stroke-width="4.2" stroke-linecap="round"/>
<text class="ls" transform="translate(675.7 1384.2) scale(1.0 1.04)" font-size="22.5" text-anchor="start" fill="#000"  stroke="#000" stroke-width="0.4">630 nm</text>
<line x1="620.8" y1="1403.2" x2="668.7" y2="1403.2" stroke="#ff0000" stroke-width="4.2" stroke-linecap="round"/>
<text class="ls" transform="translate(675.7 1411.2) scale(1.0 1.04)" font-size="22.5" text-anchor="start" fill="#000"  stroke="#000" stroke-width="0.4">935 nm</text>
<line x1="620.8" y1="1430.2" x2="668.7" y2="1430.2" stroke="#0000ff" stroke-width="4.2" stroke-linecap="round"/>
<text class="ls" transform="translate(675.7 1438.2) scale(1.0 1.04)" font-size="22.5" text-anchor="start" fill="#000"  stroke="#000" stroke-width="0.4">1550 nm</text>
<line x1="693" y1="1470.2" x2="654.5" y2="1470.2" stroke="#000" stroke-width="1.2" /><line x1="693" y1="1464.5" x2="693" y2="1476" stroke="#000" stroke-width="1.2" /><polygon points="639.5,1470.2 661.5,1463.7 654.5,1470.2 661.5,1476.7" fill="#000"/>
</g>
<g>
<line x1="1013.1" y1="1025.8" x2="968.4" y2="1025.8" stroke="#000" stroke-width="3.6" stroke-dasharray="4.8 4.9"/><line x1="1575.5" y1="1028.8" x2="1620" y2="1028.8" stroke="#000" stroke-width="3.6" stroke-dasharray="4.8 4.9"/><line x1="1084.2" y1="1026.5" x2="1133" y2="1026.5" stroke="#000" stroke-width="3.2" stroke-linecap="round"/><line x1="1204" y1="1026.5" x2="1256.3" y2="1026.5" stroke="#000" stroke-width="3.2" stroke-linecap="round"/><line x1="1327.2" y1="1026.5" x2="1379.3" y2="1026.5" stroke="#000" stroke-width="3.2" stroke-linecap="round"/><line x1="1451.4" y1="1027.7" x2="1503.7" y2="1027.4" stroke="#000" stroke-width="3.2" stroke-linecap="round"/><line x1="1027.9" y1="907.2" x2="1073.3" y2="907.2" stroke="#000" stroke-width="3.2" stroke-linecap="round"/><line x1="1027.9" y1="907.2" x2="1019.6" y2="927.1" stroke="#000" stroke-width="3.2" stroke-linecap="round"/><line x1="1073.3" y1="907.2" x2="1081.4" y2="927" stroke="#000" stroke-width="3.2" stroke-linecap="round"/><line x1="1017.4" y1="956.9" x2="1027.2" y2="985.6" stroke="#000" stroke-width="3.2" stroke-linecap="round"/><line x1="1082.8" y1="956.7" x2="1071.4" y2="985.6" stroke="#000" stroke-width="3.2" stroke-linecap="round"/><line x1="1027.2" y1="985.6" x2="1071.4" y2="985.6" stroke="#000" stroke-width="3.2" stroke-linecap="round"/><line x1="1027.2" y1="985.6" x2="1012.1" y2="1025.8" stroke="#000" stroke-width="3.2" stroke-linecap="round"/><line x1="1071.4" y1="985.6" x2="1084.2" y2="1026.5" stroke="#000" stroke-width="3.2" stroke-linecap="round"/><line x1="1012.1" y1="1025.8" x2="1035.2" y2="1042.7" stroke="#000" stroke-width="3.2" stroke-linecap="round"/><line x1="1084.2" y1="1026.5" x2="1062.3" y2="1042.6" stroke="#000" stroke-width="3.2" stroke-linecap="round"/><line x1="1031.2" y1="992.4" x2="1019.5" y2="1023.3" stroke="#000" stroke-width="3.2" stroke-linecap="round"/><line x1="1067.1" y1="992.1" x2="1076.9" y2="1023.6" stroke="#000" stroke-width="3.2" stroke-linecap="round"/><text class="lsb" transform="translate(1012.8 953.2) scale(1 1.05)" font-size="27.3" text-anchor="middle" fill="#000">O</text><text class="lsb" transform="translate(1088.1 953.2) scale(1 1.05)" font-size="27.3" text-anchor="middle" fill="#000">O</text><text class="lsb" transform="translate(1048.8 1061.3) scale(1 1.05)" font-size="27.3" text-anchor="middle" fill="#000">S</text><line x1="1147" y1="907.9" x2="1192.3" y2="907.9" stroke="#000" stroke-width="3.2" stroke-linecap="round"/><line x1="1147" y1="907.9" x2="1138.1" y2="927.3" stroke="#000" stroke-width="3.2" stroke-linecap="round"/><line x1="1192.3" y1="907.9" x2="1200.1" y2="927" stroke="#000" stroke-width="3.2" stroke-linecap="round"/><line x1="1135.9" y1="956.7" x2="1147" y2="985.6" stroke="#000" stroke-width="3.2" stroke-linecap="round"/><line x1="1201.4" y1="956.7" x2="1190" y2="985.6" stroke="#000" stroke-width="3.2" stroke-linecap="round"/><line x1="1147" y1="985.6" x2="1190" y2="985.6" stroke="#000" stroke-width="3.2" stroke-linecap="round"/><line x1="1147" y1="985.6" x2="1133" y2="1026.5" stroke="#000" stroke-width="3.2" stroke-linecap="round"/><line x1="1190" y1="985.6" x2="1204" y2="1026.5" stroke="#000" stroke-width="3.2" stroke-linecap="round"/><line x1="1133" y1="1026.5" x2="1154.4" y2="1042.5" stroke="#000" stroke-width="3.2" stroke-linecap="round"/><line x1="1204" y1="1026.5" x2="1181.5" y2="1042.8" stroke="#000" stroke-width="3.2" stroke-linecap="round"/><line x1="1151.2" y1="992.3" x2="1140.4" y2="1023.8" stroke="#000" stroke-width="3.2" stroke-linecap="round"/><line x1="1185.8" y1="992.3" x2="1196.6" y2="1023.8" stroke="#000" stroke-width="3.2" stroke-linecap="round"/><text class="lsb" transform="translate(1130.7 953.2) scale(1 1.05)" font-size="27.3" text-anchor="middle" fill="#000">O</text><text class="lsb" transform="translate(1206.7 953.2) scale(1 1.05)" font-size="27.3" text-anchor="middle" fill="#000">O</text><text class="lsb" transform="translate(1167.9 1061.3) scale(1 1.05)" font-size="27.3" text-anchor="middle" fill="#000">S</text><line x1="1271.4" y1="907.9" x2="1316.7" y2="907.9" stroke="#000" stroke-width="3.2" stroke-linecap="round"/><line x1="1271.4" y1="907.9" x2="1262.5" y2="927.3" stroke="#000" stroke-width="3.2" stroke-linecap="round"/><line x1="1316.7" y1="907.9" x2="1324.2" y2="926.9" stroke="#000" stroke-width="3.2" stroke-linecap="round"/><line x1="1260.3" y1="956.7" x2="1271.4" y2="985.6" stroke="#000" stroke-width="3.2" stroke-linecap="round"/><line x1="1325.4" y1="956.7" x2="1314" y2="985.6" stroke="#000" stroke-width="3.2" stroke-linecap="round"/><line x1="1271.4" y1="985.6" x2="1314" y2="985.6" stroke="#000" stroke-width="3.2" stroke-linecap="round"/><line x1="1271.4" y1="985.6" x2="1256.3" y2="1026.5" stroke="#000" stroke-width="3.2" stroke-linecap="round"/><line x1="1314" y1="985.6" x2="1327.2" y2="1026.5" stroke="#000" stroke-width="3.2" stroke-linecap="round"/><line x1="1256.3" y1="1026.5" x2="1278.1" y2="1042.6" stroke="#000" stroke-width="3.2" stroke-linecap="round"/><line x1="1327.2" y1="1026.5" x2="1305.1" y2="1042.7" stroke="#000" stroke-width="3.2" stroke-linecap="round"/><line x1="1275.4" y1="992.4" x2="1263.8" y2="1023.9" stroke="#000" stroke-width="3.2" stroke-linecap="round"/><line x1="1309.7" y1="992.2" x2="1319.9" y2="1023.7" stroke="#000" stroke-width="3.2" stroke-linecap="round"/><text class="lsb" transform="translate(1255.1 953.2) scale(1 1.05)" font-size="27.3" text-anchor="middle" fill="#000">O</text><text class="lsb" transform="translate(1330.7 953.2) scale(1 1.05)" font-size="27.3" text-anchor="middle" fill="#000">O</text><text class="lsb" transform="translate(1291.6 1061.3) scale(1 1.05)" font-size="27.3" text-anchor="middle" fill="#000">S</text><line x1="1395.6" y1="908.4" x2="1440.5" y2="908.4" stroke="#000" stroke-width="3.2" stroke-linecap="round"/><line x1="1395.6" y1="908.4" x2="1386.9" y2="928.7" stroke="#000" stroke-width="3.2" stroke-linecap="round"/><line x1="1440.5" y1="908.4" x2="1448.7" y2="928.6" stroke="#000" stroke-width="3.2" stroke-linecap="round"/><line x1="1384.9" y1="958.4" x2="1394.9" y2="986.3" stroke="#000" stroke-width="3.2" stroke-linecap="round"/><line x1="1449.8" y1="958.2" x2="1438.1" y2="986.3" stroke="#000" stroke-width="3.2" stroke-linecap="round"/><line x1="1394.9" y1="986.3" x2="1438.1" y2="986.3" stroke="#000" stroke-width="3.2" stroke-linecap="round"/><line x1="1394.9" y1="986.3" x2="1379.3" y2="1026.5" stroke="#000" stroke-width="3.2" stroke-linecap="round"/><line x1="1438.1" y1="986.3" x2="1451.4" y2="1027.7" stroke="#000" stroke-width="3.2" stroke-linecap="round"/><line x1="1379.3" y1="1026.5" x2="1402.5" y2="1043.7" stroke="#000" stroke-width="3.2" stroke-linecap="round"/><line x1="1451.4" y1="1027.7" x2="1429.5" y2="1043.8" stroke="#000" stroke-width="3.2" stroke-linecap="round"/><line x1="1398.8" y1="993.1" x2="1386.8" y2="1024.1" stroke="#000" stroke-width="3.2" stroke-linecap="round"/><line x1="1433.8" y1="992.9" x2="1444.1" y2="1024.8" stroke="#000" stroke-width="3.2" stroke-linecap="round"/><text class="lsb" transform="translate(1380 954.8) scale(1 1.05)" font-size="27.3" text-anchor="middle" fill="#000">O</text><text class="lsb" transform="translate(1455.3 954.8) scale(1 1.05)" font-size="27.3" text-anchor="middle" fill="#000">O</text><text class="lsb" transform="translate(1416 1062.4) scale(1 1.05)" font-size="27.3" text-anchor="middle" fill="#000">S</text><line x1="1520" y1="908.8" x2="1564.9" y2="908.8" stroke="#000" stroke-width="3.2" stroke-linecap="round"/><line x1="1520" y1="908.8" x2="1511.1" y2="929.4" stroke="#000" stroke-width="3.2" stroke-linecap="round"/><line x1="1564.9" y1="908.8" x2="1573.3" y2="929.3" stroke="#000" stroke-width="3.2" stroke-linecap="round"/><line x1="1509.2" y1="959.1" x2="1519.5" y2="987" stroke="#000" stroke-width="3.2" stroke-linecap="round"/><line x1="1574.5" y1="958.9" x2="1563" y2="987" stroke="#000" stroke-width="3.2" stroke-linecap="round"/><line x1="1519.5" y1="987" x2="1563" y2="987" stroke="#000" stroke-width="3.2" stroke-linecap="round"/><line x1="1519.5" y1="987" x2="1503.7" y2="1027.4" stroke="#000" stroke-width="3.2" stroke-linecap="round"/><line x1="1563" y1="987" x2="1576.5" y2="1028.8" stroke="#000" stroke-width="3.2" stroke-linecap="round"/><line x1="1503.7" y1="1027.4" x2="1527" y2="1044.5" stroke="#000" stroke-width="3.2" stroke-linecap="round"/><line x1="1576.5" y1="1028.8" x2="1554.2" y2="1044.7" stroke="#000" stroke-width="3.2" stroke-linecap="round"/><line x1="1523.4" y1="993.9" x2="1511.2" y2="1025" stroke="#000" stroke-width="3.2" stroke-linecap="round"/><line x1="1558.7" y1="993.7" x2="1569.1" y2="1025.9" stroke="#000" stroke-width="3.2" stroke-linecap="round"/><text class="lsb" transform="translate(1504.2 955.5) scale(1 1.05)" font-size="27.3" text-anchor="middle" fill="#000">O</text><text class="lsb" transform="translate(1580 955.5) scale(1 1.05)" font-size="27.3" text-anchor="middle" fill="#000">O</text><text class="lsb" transform="translate(1540.5 1063.1) scale(1 1.05)" font-size="27.3" text-anchor="middle" fill="#000">S</text>
<line x1="1010.8" y1="1352.1" x2="966.7" y2="1352.1" stroke="#000" stroke-width="3.6" stroke-dasharray="4.8 4.9"/><line x1="1576.7" y1="1355.6" x2="1621.2" y2="1355.6" stroke="#000" stroke-width="3.6" stroke-dasharray="4.8 4.9"/><line x1="1081.9" y1="1353.3" x2="1132.6" y2="1354" stroke="#000" stroke-width="3.2" stroke-linecap="round"/><line x1="1203.5" y1="1354" x2="1256.3" y2="1353.3" stroke="#ff0000" stroke-width="3.2" stroke-linecap="round"/><line x1="1209.5" y1="1345" x2="1250.3" y2="1344.3" stroke="#ff0000" stroke-width="3.2" stroke-linecap="round"/><line x1="1327.2" y1="1354" x2="1379.3" y2="1353.3" stroke="#ff0000" stroke-width="3.2" stroke-linecap="round"/><line x1="1333.2" y1="1345" x2="1373.3" y2="1344.3" stroke="#ff0000" stroke-width="3.2" stroke-linecap="round"/><line x1="1451.4" y1="1354.9" x2="1505.6" y2="1354.9" stroke="#000" stroke-width="3.2" stroke-linecap="round"/><line x1="1026.5" y1="1233.5" x2="1071.4" y2="1233.5" stroke="#000" stroke-width="3.2" stroke-linecap="round"/><line x1="1026.5" y1="1233.5" x2="1017.6" y2="1253.4" stroke="#000" stroke-width="3.2" stroke-linecap="round"/><line x1="1071.4" y1="1233.5" x2="1079.4" y2="1253.2" stroke="#000" stroke-width="3.2" stroke-linecap="round"/><line x1="1015.4" y1="1283" x2="1025.6" y2="1311.4" stroke="#000" stroke-width="3.2" stroke-linecap="round"/><line x1="1080.6" y1="1282.8" x2="1069" y2="1311.4" stroke="#000" stroke-width="3.2" stroke-linecap="round"/><line x1="1025.6" y1="1311.4" x2="1069" y2="1311.4" stroke="#000" stroke-width="3.2" stroke-linecap="round"/><line x1="1025.6" y1="1311.4" x2="1009.8" y2="1352.1" stroke="#000" stroke-width="3.2" stroke-linecap="round"/><line x1="1069" y1="1311.4" x2="1081.9" y2="1353.3" stroke="#000" stroke-width="3.2" stroke-linecap="round"/><line x1="1009.8" y1="1352.1" x2="1032.9" y2="1368.9" stroke="#000" stroke-width="3.2" stroke-linecap="round"/><line x1="1081.9" y1="1353.3" x2="1060.1" y2="1369" stroke="#000" stroke-width="3.2" stroke-linecap="round"/><line x1="1029.5" y1="1318.3" x2="1017.3" y2="1349.6" stroke="#000" stroke-width="3.2" stroke-linecap="round"/><line x1="1064.7" y1="1318" x2="1074.6" y2="1350.3" stroke="#000" stroke-width="3.2" stroke-linecap="round"/><text class="lsb" transform="translate(1010.5 1279.4) scale(1 1.05)" font-size="27.3" text-anchor="middle" fill="#000">O</text><text class="lsb" transform="translate(1086 1279.4) scale(1 1.05)" font-size="27.3" text-anchor="middle" fill="#000">O</text><text class="lsb" transform="translate(1046.5 1387.5) scale(1 1.05)" font-size="27.3" text-anchor="middle" fill="#000">S</text><line x1="1147" y1="1234" x2="1191.9" y2="1234" stroke="#000" stroke-width="3.2" stroke-linecap="round"/><line x1="1147" y1="1234" x2="1137.9" y2="1254.2" stroke="#000" stroke-width="3.2" stroke-linecap="round"/><line x1="1191.9" y1="1234" x2="1200" y2="1253.9" stroke="#000" stroke-width="3.2" stroke-linecap="round"/><line x1="1135.8" y1="1283.7" x2="1146.5" y2="1311.9" stroke="#000" stroke-width="3.2" stroke-linecap="round"/><line x1="1201.3" y1="1283.6" x2="1190" y2="1311.9" stroke="#000" stroke-width="3.2" stroke-linecap="round"/><line x1="1146.5" y1="1311.9" x2="1190" y2="1311.9" stroke="#ff0000" stroke-width="3.2" stroke-linecap="round"/><line x1="1146.5" y1="1311.9" x2="1132.6" y2="1354" stroke="#ff0000" stroke-width="3.2" stroke-linecap="round"/><line x1="1190" y1="1311.9" x2="1203.5" y2="1354" stroke="#ff0000" stroke-width="3.2" stroke-linecap="round"/><line x1="1132.6" y1="1354" x2="1153.7" y2="1369.1" stroke="#ff0000" stroke-width="3.2" stroke-linecap="round"/><line x1="1203.5" y1="1354" x2="1181.2" y2="1369.3" stroke="#ff0000" stroke-width="3.2" stroke-linecap="round"/><line x1="1152.6" y1="1319.4" x2="1183.9" y2="1319.4" stroke="#ff0000" stroke-width="3.2" stroke-linecap="round"/><text class="lsb" transform="translate(1130.7 1280.1) scale(1 1.05)" font-size="27.3" text-anchor="middle" fill="#000">O</text><text class="lsb" transform="translate(1206.7 1280.1) scale(1 1.05)" font-size="27.3" text-anchor="middle" fill="#000">O</text><text class="lsb" transform="translate(1167.4 1387.5) scale(1 1.05)" font-size="27.3" text-anchor="middle" fill="#ff0000">S</text><line x1="1271.4" y1="1234" x2="1316.3" y2="1234" stroke="#000" stroke-width="3.2" stroke-linecap="round"/><line x1="1271.4" y1="1234" x2="1262.3" y2="1254.2" stroke="#000" stroke-width="3.2" stroke-linecap="round"/><line x1="1316.3" y1="1234" x2="1324.2" y2="1253.8" stroke="#000" stroke-width="3.2" stroke-linecap="round"/><line x1="1260.1" y1="1283.7" x2="1270.7" y2="1311.9" stroke="#000" stroke-width="3.2" stroke-linecap="round"/><line x1="1325.3" y1="1283.6" x2="1314" y2="1311.9" stroke="#000" stroke-width="3.2" stroke-linecap="round"/><line x1="1270.7" y1="1311.9" x2="1314" y2="1311.9" stroke="#ff0000" stroke-width="3.2" stroke-linecap="round"/><line x1="1270.7" y1="1311.9" x2="1256.3" y2="1353.3" stroke="#ff0000" stroke-width="3.2" stroke-linecap="round"/><line x1="1314" y1="1311.9" x2="1327.2" y2="1354" stroke="#ff0000" stroke-width="3.2" stroke-linecap="round"/><line x1="1256.3" y1="1353.3" x2="1277.6" y2="1368.9" stroke="#ff0000" stroke-width="3.2" stroke-linecap="round"/><line x1="1327.2" y1="1354" x2="1305" y2="1369.3" stroke="#ff0000" stroke-width="3.2" stroke-linecap="round"/><line x1="1276.8" y1="1319.4" x2="1307.9" y2="1319.4" stroke="#ff0000" stroke-width="3.2" stroke-linecap="round"/><text class="lsb" transform="translate(1255.1 1280.1) scale(1 1.05)" font-size="27.3" text-anchor="middle" fill="#000">O</text><text class="lsb" transform="translate(1330.7 1280.1) scale(1 1.05)" font-size="27.3" text-anchor="middle" fill="#000">O</text><text class="lsb" transform="translate(1291.2 1387.5) scale(1 1.05)" font-size="27.3" text-anchor="middle" fill="#ff0000">S</text><line x1="1395.6" y1="1234" x2="1440.5" y2="1234" stroke="#000" stroke-width="3.2" stroke-linecap="round"/><line x1="1395.6" y1="1234" x2="1386.8" y2="1255" stroke="#000" stroke-width="3.2" stroke-linecap="round"/><line x1="1440.5" y1="1234" x2="1448.8" y2="1254.8" stroke="#000" stroke-width="3.2" stroke-linecap="round"/><line x1="1384.8" y1="1284.8" x2="1394.4" y2="1312.1" stroke="#000" stroke-width="3.2" stroke-linecap="round"/><line x1="1449.7" y1="1284.5" x2="1438.1" y2="1312.1" stroke="#000" stroke-width="3.2" stroke-linecap="round"/><line x1="1394.4" y1="1312.1" x2="1438.1" y2="1312.1" stroke="#ff0000" stroke-width="3.2" stroke-linecap="round"/><line x1="1394.4" y1="1312.1" x2="1379.3" y2="1353.3" stroke="#ff0000" stroke-width="3.2" stroke-linecap="round"/><line x1="1438.1" y1="1312.1" x2="1451.4" y2="1354.9" stroke="#ff0000" stroke-width="3.2" stroke-linecap="round"/><line x1="1379.3" y1="1353.3" x2="1402.2" y2="1370.1" stroke="#ff0000" stroke-width="3.2" stroke-linecap="round"/><line x1="1451.4" y1="1354.9" x2="1429.5" y2="1370.3" stroke="#ff0000" stroke-width="3.2" stroke-linecap="round"/><line x1="1400.5" y1="1319.6" x2="1432" y2="1319.6" stroke="#ff0000" stroke-width="3.2" stroke-linecap="round"/><text class="lsb" transform="translate(1380 1281.1) scale(1 1.05)" font-size="27.3" text-anchor="middle" fill="#000">O</text><text class="lsb" transform="translate(1455.3 1281.1) scale(1 1.05)" font-size="27.3" text-anchor="middle" fill="#000">O</text><text class="lsb" transform="translate(1415.8 1388.7) scale(1 1.05)" font-size="27.3" text-anchor="middle" fill="#ff0000">S</text><line x1="1521.9" y1="1235.3" x2="1566.5" y2="1235.3" stroke="#000" stroke-width="3.2" stroke-linecap="round"/><line x1="1521.9" y1="1235.3" x2="1512.8" y2="1255.8" stroke="#000" stroke-width="3.2" stroke-linecap="round"/><line x1="1566.5" y1="1235.3" x2="1574.9" y2="1255.6" stroke="#000" stroke-width="3.2" stroke-linecap="round"/><line x1="1510.5" y1="1285.4" x2="1520.5" y2="1313" stroke="#000" stroke-width="3.2" stroke-linecap="round"/><line x1="1575.9" y1="1285.1" x2="1563.7" y2="1313" stroke="#000" stroke-width="3.2" stroke-linecap="round"/><line x1="1520.5" y1="1313" x2="1563.7" y2="1313" stroke="#000" stroke-width="3.2" stroke-linecap="round"/><line x1="1520.5" y1="1313" x2="1505.6" y2="1354.9" stroke="#000" stroke-width="3.2" stroke-linecap="round"/><line x1="1563.7" y1="1313" x2="1577.7" y2="1355.6" stroke="#000" stroke-width="3.2" stroke-linecap="round"/><line x1="1505.6" y1="1354.9" x2="1528.3" y2="1370.9" stroke="#000" stroke-width="3.2" stroke-linecap="round"/><line x1="1577.7" y1="1355.6" x2="1555.9" y2="1370.9" stroke="#000" stroke-width="3.2" stroke-linecap="round"/><line x1="1524.5" y1="1319.9" x2="1513.1" y2="1352.1" stroke="#000" stroke-width="3.2" stroke-linecap="round"/><line x1="1559.5" y1="1319.8" x2="1570.3" y2="1352.6" stroke="#000" stroke-width="3.2" stroke-linecap="round"/><text class="lsb" transform="translate(1505.6 1281.8) scale(1 1.05)" font-size="27.3" text-anchor="middle" fill="#000">O</text><text class="lsb" transform="translate(1581.6 1281.8) scale(1 1.05)" font-size="27.3" text-anchor="middle" fill="#000">O</text><text class="lsb" transform="translate(1542.1 1389.2) scale(1 1.05)" font-size="27.3" text-anchor="middle" fill="#000">S</text><text class="ls" x="1126.7" y="1349.5" font-size="21" text-anchor="middle" fill="#ff0000" stroke="#ff0000" stroke-width="1.0">+</text><text class="ls" x="1457.2" y="1351" font-size="20" text-anchor="middle" fill="#ff0000" stroke="#ff0000" stroke-width="1.0">•</text>
<line x1="1004.3" y1="1685.8" x2="959.8" y2="1685.8" stroke="#000" stroke-width="3.6" stroke-dasharray="4.8 4.9"/><line x1="1573.7" y1="1690" x2="1618.8" y2="1690" stroke="#000" stroke-width="3.6" stroke-dasharray="4.8 4.9"/><line x1="1076" y1="1687.7" x2="1131.9" y2="1687.2" stroke="#000" stroke-width="3.2" stroke-linecap="round"/><line x1="1202.8" y1="1687.2" x2="1255.8" y2="1687.2" stroke="#0000ff" stroke-width="3.2" stroke-linecap="round"/><line x1="1208.8" y1="1678.2" x2="1249.8" y2="1678.2" stroke="#0000ff" stroke-width="3.2" stroke-linecap="round"/><line x1="1326.5" y1="1687.2" x2="1378.1" y2="1687.2" stroke="#0000ff" stroke-width="3.2" stroke-linecap="round"/><line x1="1332.5" y1="1678.2" x2="1372.1" y2="1678.2" stroke="#0000ff" stroke-width="3.2" stroke-linecap="round"/><line x1="1450.7" y1="1688.1" x2="1502.6" y2="1688.1" stroke="#000" stroke-width="3.2" stroke-linecap="round"/><line x1="1020.2" y1="1567.9" x2="1065.6" y2="1567.9" stroke="#000" stroke-width="3.2" stroke-linecap="round"/><line x1="1020.2" y1="1567.9" x2="1011.5" y2="1587.9" stroke="#000" stroke-width="3.2" stroke-linecap="round"/><line x1="1065.6" y1="1567.9" x2="1073.5" y2="1587.7" stroke="#000" stroke-width="3.2" stroke-linecap="round"/><line x1="1009.1" y1="1617.6" x2="1019" y2="1645.8" stroke="#000" stroke-width="3.2" stroke-linecap="round"/><line x1="1074.5" y1="1617.3" x2="1062.8" y2="1645.8" stroke="#000" stroke-width="3.2" stroke-linecap="round"/><line x1="1019" y1="1645.8" x2="1062.8" y2="1645.8" stroke="#000" stroke-width="3.2" stroke-linecap="round"/><line x1="1019" y1="1645.8" x2="1003.3" y2="1685.8" stroke="#000" stroke-width="3.2" stroke-linecap="round"/><line x1="1062.8" y1="1645.8" x2="1076" y2="1687.7" stroke="#000" stroke-width="3.2" stroke-linecap="round"/><line x1="1003.3" y1="1685.8" x2="1026.9" y2="1703.1" stroke="#000" stroke-width="3.2" stroke-linecap="round"/><line x1="1076" y1="1687.7" x2="1054.2" y2="1703.2" stroke="#000" stroke-width="3.2" stroke-linecap="round"/><line x1="1022.9" y1="1652.6" x2="1010.8" y2="1683.4" stroke="#000" stroke-width="3.2" stroke-linecap="round"/><line x1="1058.5" y1="1652.5" x2="1068.7" y2="1684.7" stroke="#000" stroke-width="3.2" stroke-linecap="round"/><text class="lsb" transform="translate(1004.4 1613.9) scale(1 1.05)" font-size="27.3" text-anchor="middle" fill="#000">O</text><text class="lsb" transform="translate(1080 1613.9) scale(1 1.05)" font-size="27.3" text-anchor="middle" fill="#000">O</text><text class="lsb" transform="translate(1040.5 1721.7) scale(1 1.05)" font-size="27.3" text-anchor="middle" fill="#000">S</text><line x1="1146.5" y1="1568.6" x2="1191.2" y2="1568.6" stroke="#000" stroke-width="3.2" stroke-linecap="round"/><line x1="1146.5" y1="1568.6" x2="1137.5" y2="1588.4" stroke="#000" stroke-width="3.2" stroke-linecap="round"/><line x1="1191.2" y1="1568.6" x2="1199.5" y2="1588.2" stroke="#000" stroke-width="3.2" stroke-linecap="round"/><line x1="1135.3" y1="1617.9" x2="1145.8" y2="1645.8" stroke="#000" stroke-width="3.2" stroke-linecap="round"/><line x1="1200.8" y1="1617.7" x2="1189.3" y2="1645.8" stroke="#000" stroke-width="3.2" stroke-linecap="round"/><line x1="1145.8" y1="1645.8" x2="1189.3" y2="1645.8" stroke="#0000ff" stroke-width="3.2" stroke-linecap="round"/><line x1="1145.8" y1="1645.8" x2="1131.9" y2="1687.2" stroke="#0000ff" stroke-width="3.2" stroke-linecap="round"/><line x1="1189.3" y1="1645.8" x2="1202.8" y2="1687.2" stroke="#0000ff" stroke-width="3.2" stroke-linecap="round"/><line x1="1131.9" y1="1687.2" x2="1153.2" y2="1703" stroke="#0000ff" stroke-width="3.2" stroke-linecap="round"/><line x1="1202.8" y1="1687.2" x2="1180.4" y2="1703.2" stroke="#0000ff" stroke-width="3.2" stroke-linecap="round"/><line x1="1151.9" y1="1653.3" x2="1183.2" y2="1653.3" stroke="#0000ff" stroke-width="3.2" stroke-linecap="round"/><text class="lsb" transform="translate(1130.2 1614.3) scale(1 1.05)" font-size="27.3" text-anchor="middle" fill="#000">O</text><text class="lsb" transform="translate(1206.3 1614.3) scale(1 1.05)" font-size="27.3" text-anchor="middle" fill="#000">O</text><text class="lsb" transform="translate(1166.7 1721.7) scale(1 1.05)" font-size="27.3" text-anchor="middle" fill="#0000ff">S</text><line x1="1270.7" y1="1568.6" x2="1315.6" y2="1568.6" stroke="#000" stroke-width="3.2" stroke-linecap="round"/><line x1="1270.7" y1="1568.6" x2="1261.9" y2="1588.3" stroke="#000" stroke-width="3.2" stroke-linecap="round"/><line x1="1315.6" y1="1568.6" x2="1323.6" y2="1588.1" stroke="#000" stroke-width="3.2" stroke-linecap="round"/><line x1="1259.7" y1="1617.9" x2="1270.2" y2="1645.8" stroke="#000" stroke-width="3.2" stroke-linecap="round"/><line x1="1324.8" y1="1617.7" x2="1313.3" y2="1645.8" stroke="#000" stroke-width="3.2" stroke-linecap="round"/><line x1="1270.2" y1="1645.8" x2="1313.3" y2="1645.8" stroke="#0000ff" stroke-width="3.2" stroke-linecap="round"/><line x1="1270.2" y1="1645.8" x2="1255.8" y2="1687.2" stroke="#0000ff" stroke-width="3.2" stroke-linecap="round"/><line x1="1313.3" y1="1645.8" x2="1326.5" y2="1687.2" stroke="#0000ff" stroke-width="3.2" stroke-linecap="round"/><line x1="1255.8" y1="1687.2" x2="1277.4" y2="1703.1" stroke="#0000ff" stroke-width="3.2" stroke-linecap="round"/><line x1="1326.5" y1="1687.2" x2="1304.6" y2="1703.1" stroke="#0000ff" stroke-width="3.2" stroke-linecap="round"/><line x1="1276.2" y1="1653.3" x2="1307.3" y2="1653.3" stroke="#0000ff" stroke-width="3.2" stroke-linecap="round"/><text class="lsb" transform="translate(1254.7 1614.3) scale(1 1.05)" font-size="27.3" text-anchor="middle" fill="#000">O</text><text class="lsb" transform="translate(1330.2 1614.3) scale(1 1.05)" font-size="27.3" text-anchor="middle" fill="#000">O</text><text class="lsb" transform="translate(1291 1721.7) scale(1 1.05)" font-size="27.3" text-anchor="middle" fill="#0000ff">S</text><line x1="1394.4" y1="1569.1" x2="1439.8" y2="1569.1" stroke="#000" stroke-width="3.2" stroke-linecap="round"/><line x1="1394.4" y1="1569.1" x2="1385.8" y2="1589" stroke="#000" stroke-width="3.2" stroke-linecap="round"/><line x1="1439.8" y1="1569.1" x2="1447.8" y2="1588.8" stroke="#000" stroke-width="3.2" stroke-linecap="round"/><line x1="1383.7" y1="1618.6" x2="1394" y2="1647" stroke="#000" stroke-width="3.2" stroke-linecap="round"/><line x1="1449" y1="1618.4" x2="1437.4" y2="1647" stroke="#000" stroke-width="3.2" stroke-linecap="round"/><line x1="1394" y1="1647" x2="1437.4" y2="1647" stroke="#0000ff" stroke-width="3.2" stroke-linecap="round"/><line x1="1394" y1="1647" x2="1378.1" y2="1687.2" stroke="#0000ff" stroke-width="3.2" stroke-linecap="round"/><line x1="1437.4" y1="1647" x2="1450.7" y2="1688.1" stroke="#0000ff" stroke-width="3.2" stroke-linecap="round"/><line x1="1378.1" y1="1687.2" x2="1401.3" y2="1703.7" stroke="#0000ff" stroke-width="3.2" stroke-linecap="round"/><line x1="1450.7" y1="1688.1" x2="1428.7" y2="1703.8" stroke="#0000ff" stroke-width="3.2" stroke-linecap="round"/><line x1="1400.1" y1="1654.5" x2="1431.3" y2="1654.5" stroke="#0000ff" stroke-width="3.2" stroke-linecap="round"/><text class="lsb" transform="translate(1378.8 1615) scale(1 1.05)" font-size="27.3" text-anchor="middle" fill="#000">O</text><text class="lsb" transform="translate(1454.4 1615) scale(1 1.05)" font-size="27.3" text-anchor="middle" fill="#000">O</text><text class="lsb" transform="translate(1415 1722.2) scale(1 1.05)" font-size="27.3" text-anchor="middle" fill="#0000ff">S</text><line x1="1518.8" y1="1570.2" x2="1564.2" y2="1570.2" stroke="#000" stroke-width="3.2" stroke-linecap="round"/><line x1="1518.8" y1="1570.2" x2="1510.2" y2="1590.1" stroke="#000" stroke-width="3.2" stroke-linecap="round"/><line x1="1564.2" y1="1570.2" x2="1572.2" y2="1590" stroke="#000" stroke-width="3.2" stroke-linecap="round"/><line x1="1508" y1="1619.9" x2="1517.7" y2="1648.1" stroke="#000" stroke-width="3.2" stroke-linecap="round"/><line x1="1573.4" y1="1619.7" x2="1561.9" y2="1648.1" stroke="#000" stroke-width="3.2" stroke-linecap="round"/><line x1="1517.7" y1="1648.1" x2="1561.9" y2="1648.1" stroke="#000" stroke-width="3.2" stroke-linecap="round"/><line x1="1517.7" y1="1648.1" x2="1502.6" y2="1688.1" stroke="#000" stroke-width="3.2" stroke-linecap="round"/><line x1="1561.9" y1="1648.1" x2="1574.7" y2="1690" stroke="#000" stroke-width="3.2" stroke-linecap="round"/><line x1="1502.6" y1="1688.1" x2="1526" y2="1705.5" stroke="#000" stroke-width="3.2" stroke-linecap="round"/><line x1="1574.7" y1="1690" x2="1553.1" y2="1705.6" stroke="#000" stroke-width="3.2" stroke-linecap="round"/><line x1="1521.7" y1="1654.9" x2="1510" y2="1685.7" stroke="#000" stroke-width="3.2" stroke-linecap="round"/><line x1="1557.5" y1="1654.7" x2="1567.4" y2="1687" stroke="#000" stroke-width="3.2" stroke-linecap="round"/><text class="lsb" transform="translate(1503.3 1616.2) scale(1 1.05)" font-size="27.3" text-anchor="middle" fill="#000">O</text><text class="lsb" transform="translate(1578.8 1616.2) scale(1 1.05)" font-size="27.3" text-anchor="middle" fill="#000">O</text><text class="lsb" transform="translate(1539.5 1724.2) scale(1 1.05)" font-size="27.3" text-anchor="middle" fill="#000">S</text><text class="ls" x="1126" y="1683" font-size="21" text-anchor="middle" fill="#0000ff" stroke="#0000ff" stroke-width="1.0">+</text><text class="ls" x="1457.2" y="1684.7" font-size="21" text-anchor="middle" fill="#0000ff" stroke="#0000ff" stroke-width="1.0">+</text>
<text class="dv" transform="translate(1293.5 888.6) scale(1.07 1.0)" font-size="25.5" text-anchor="middle" fill="#000"  stroke="#000" stroke-width="0.4">Neutral</text>
<text class="dv" transform="translate(1290.5 1220) scale(1.07 1.0)" font-size="25.5" text-anchor="middle" fill="#000"  stroke="#000" stroke-width="0.4">Polaron</text>
<text class="dv" transform="translate(1292.5 1548.6) scale(1.07 1.0)" font-size="25.5" text-anchor="middle" fill="#000"  stroke="#000" stroke-width="0.4">Bipolaron</text>
<line x1="1290" y1="1081.6" x2="1290" y2="1182.3" stroke="#000" stroke-width="1.5" /><line x1="1298.6" y1="1082.6" x2="1298.6" y2="1182.3" stroke="#000" stroke-width="1.5" /><polygon points="1290.7,1182.3 1284.5,1162.3 1290.7,1167.3" fill="#000"/><polygon points="1297.9,1082.6 1304.1,1102.6 1297.9,1097.6" fill="#000"/>
<line x1="1288.1" y1="1408.6" x2="1288.1" y2="1509" stroke="#000" stroke-width="1.5" /><line x1="1296.3" y1="1409.6" x2="1296.3" y2="1509" stroke="#000" stroke-width="1.5" /><polygon points="1288.8,1509 1282.6,1489 1288.8,1494" fill="#000"/><polygon points="1295.6,1409.6 1301.8,1429.6 1295.6,1424.6" fill="#000"/>
<text class="dv" transform="translate(1281 1137.7) scale(1.07 1.0)" font-size="25.5" text-anchor="end" fill="#000"  stroke="#000" stroke-width="0.4">Ox.</text>
<text class="dv" transform="translate(1306 1137.7) scale(1.07 1.0)" font-size="25.5" text-anchor="start" fill="#000"  stroke="#000" stroke-width="0.4">Red.</text>
<text class="dv" transform="translate(1281 1464.9) scale(1.07 1.0)" font-size="25.5" text-anchor="end" fill="#000"  stroke="#000" stroke-width="0.4">Ox.</text>
<text class="dv" transform="translate(1302.5 1464.9) scale(1.07 1.0)" font-size="25.5" text-anchor="start" fill="#000"  stroke="#000" stroke-width="0.4">Red.</text>
<line x1="1646.8" y1="868.8" x2="1646.8" y2="1700" stroke="#111" stroke-width="1.4" />
<line x1="1640.6" y1="868.8" x2="1652.9" y2="868.8" stroke="#111" stroke-width="1.5" />
<polygon points="1646.7,1717.5 1639.7,1695.7 1646.7,1702.2 1653.7,1695.7" fill="#000"/>
<text class="dv" transform="translate(1681.6 1296) rotate(-90) scale(1.07 1.0)" font-size="25.5" text-anchor="middle" fill="#000"  stroke="#000" stroke-width="0.4">Increasing doping level</text>
</g>
<line x1="255.5" y1="565" x2="255.5" y2="1856" stroke="#808080" stroke-width="3" stroke-dasharray="3 3.6"/>
<line x1="328.3" y1="565" x2="328.3" y2="1215" stroke="#808080" stroke-width="3" stroke-dasharray="3 3.6"/>
</svg>
</body>
</html>
